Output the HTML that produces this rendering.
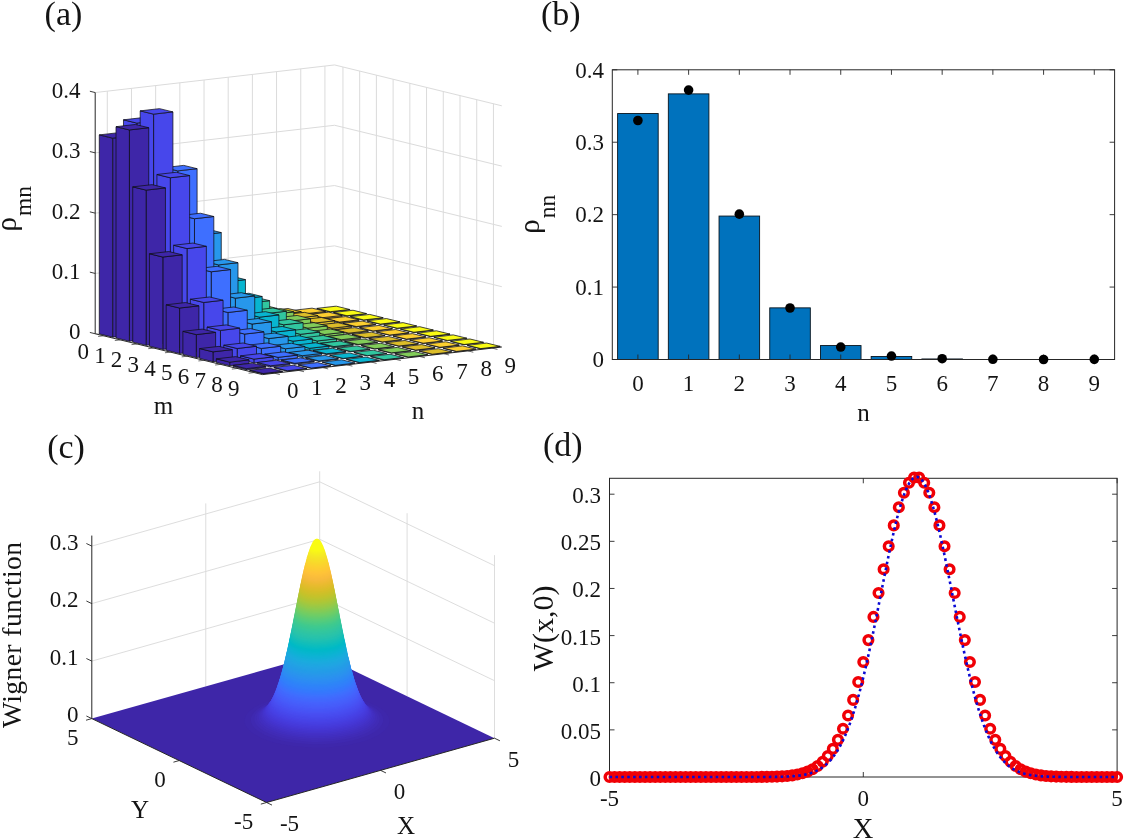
<!DOCTYPE html>
<html lang="en"><head><meta charset="utf-8"><title>Figure</title>
<style>html,body{margin:0;padding:0;background:#fff;}svg{display:block;}text{font-family:"Liberation Serif", "DejaVu Serif", serif;fill:#141414;}</style>
</head><body>
<svg width="1125" height="840" viewBox="0 0 1125 840">
<rect x="0" y="0" width="1125" height="840" fill="#ffffff"/>
<g id="panel-a">
<line x1="107.29" y1="332.36" x2="107.29" y2="91.16" stroke="#dbdbdb" stroke-width="1"/>
<line x1="342.96" y1="308.19" x2="342.96" y2="66.99" stroke="#dbdbdb" stroke-width="1"/>
<line x1="103.56" y1="335.79" x2="342.96" y2="308.19" stroke="#dbdbdb" stroke-width="1"/>
<line x1="107.29" y1="332.36" x2="274.49" y2="373.21" stroke="#dbdbdb" stroke-width="1"/>
<line x1="131.47" y1="329.57" x2="131.47" y2="88.37" stroke="#dbdbdb" stroke-width="1"/>
<line x1="359.68" y1="312.28" x2="359.68" y2="71.08" stroke="#dbdbdb" stroke-width="1"/>
<line x1="120.28" y1="339.88" x2="359.68" y2="312.28" stroke="#dbdbdb" stroke-width="1"/>
<line x1="131.47" y1="329.57" x2="298.67" y2="370.42" stroke="#dbdbdb" stroke-width="1"/>
<line x1="155.65" y1="326.78" x2="155.65" y2="85.58" stroke="#dbdbdb" stroke-width="1"/>
<line x1="376.4" y1="316.36" x2="376.4" y2="75.16" stroke="#dbdbdb" stroke-width="1"/>
<line x1="137" y1="343.96" x2="376.4" y2="316.36" stroke="#dbdbdb" stroke-width="1"/>
<line x1="155.65" y1="326.78" x2="322.85" y2="367.63" stroke="#dbdbdb" stroke-width="1"/>
<line x1="179.84" y1="323.99" x2="179.84" y2="82.79" stroke="#dbdbdb" stroke-width="1"/>
<line x1="393.12" y1="320.45" x2="393.12" y2="79.25" stroke="#dbdbdb" stroke-width="1"/>
<line x1="153.72" y1="348.05" x2="393.12" y2="320.45" stroke="#dbdbdb" stroke-width="1"/>
<line x1="179.84" y1="323.99" x2="347.04" y2="364.84" stroke="#dbdbdb" stroke-width="1"/>
<line x1="204.02" y1="321.2" x2="204.02" y2="80" stroke="#dbdbdb" stroke-width="1"/>
<line x1="409.84" y1="324.53" x2="409.84" y2="83.33" stroke="#dbdbdb" stroke-width="1"/>
<line x1="170.44" y1="352.13" x2="409.84" y2="324.53" stroke="#dbdbdb" stroke-width="1"/>
<line x1="204.02" y1="321.2" x2="371.22" y2="362.05" stroke="#dbdbdb" stroke-width="1"/>
<line x1="228.2" y1="318.42" x2="228.2" y2="77.22" stroke="#dbdbdb" stroke-width="1"/>
<line x1="426.56" y1="328.62" x2="426.56" y2="87.42" stroke="#dbdbdb" stroke-width="1"/>
<line x1="187.16" y1="356.22" x2="426.56" y2="328.62" stroke="#dbdbdb" stroke-width="1"/>
<line x1="228.2" y1="318.42" x2="395.4" y2="359.27" stroke="#dbdbdb" stroke-width="1"/>
<line x1="252.38" y1="315.63" x2="252.38" y2="74.43" stroke="#dbdbdb" stroke-width="1"/>
<line x1="443.28" y1="332.7" x2="443.28" y2="91.5" stroke="#dbdbdb" stroke-width="1"/>
<line x1="203.88" y1="360.3" x2="443.28" y2="332.7" stroke="#dbdbdb" stroke-width="1"/>
<line x1="252.38" y1="315.63" x2="419.58" y2="356.48" stroke="#dbdbdb" stroke-width="1"/>
<line x1="276.56" y1="312.84" x2="276.56" y2="71.64" stroke="#dbdbdb" stroke-width="1"/>
<line x1="460" y1="336.79" x2="460" y2="95.59" stroke="#dbdbdb" stroke-width="1"/>
<line x1="220.6" y1="364.39" x2="460" y2="336.79" stroke="#dbdbdb" stroke-width="1"/>
<line x1="276.56" y1="312.84" x2="443.76" y2="353.69" stroke="#dbdbdb" stroke-width="1"/>
<line x1="300.75" y1="310.05" x2="300.75" y2="68.85" stroke="#dbdbdb" stroke-width="1"/>
<line x1="476.72" y1="340.87" x2="476.72" y2="99.67" stroke="#dbdbdb" stroke-width="1"/>
<line x1="237.32" y1="368.47" x2="476.72" y2="340.87" stroke="#dbdbdb" stroke-width="1"/>
<line x1="300.75" y1="310.05" x2="467.95" y2="350.9" stroke="#dbdbdb" stroke-width="1"/>
<line x1="324.93" y1="307.27" x2="324.93" y2="66.07" stroke="#dbdbdb" stroke-width="1"/>
<line x1="493.44" y1="344.96" x2="493.44" y2="103.76" stroke="#dbdbdb" stroke-width="1"/>
<line x1="254.04" y1="372.56" x2="493.44" y2="344.96" stroke="#dbdbdb" stroke-width="1"/>
<line x1="324.93" y1="307.27" x2="492.13" y2="348.12" stroke="#dbdbdb" stroke-width="1"/>
<polyline points="95.2,333.75 334.6,306.15 501.8,347" fill="none" stroke="#dbdbdb" stroke-width="1"/>
<polyline points="95.2,273.45 334.6,245.85 501.8,286.7" fill="none" stroke="#dbdbdb" stroke-width="1"/>
<polyline points="95.2,213.15 334.6,185.55 501.8,226.4" fill="none" stroke="#dbdbdb" stroke-width="1"/>
<polyline points="95.2,152.85 334.6,125.25 501.8,166.1" fill="none" stroke="#dbdbdb" stroke-width="1"/>
<polyline points="95.2,92.55 334.6,64.95 501.8,105.8" fill="none" stroke="#dbdbdb" stroke-width="1"/>
<polygon points="330.3,312.06 349.65,309.83 349.65,309.45 330.3,311.68" fill="#f9fb15" stroke="#101018" stroke-width="0.75" stroke-linejoin="round"/>
<polygon points="316.93,308.79 330.3,312.06 330.3,311.68 316.93,308.41" fill="#f9fb15" stroke="#101018" stroke-width="0.75" stroke-linejoin="round"/>
<polygon points="316.93,308.41 330.3,311.68 349.65,309.45 336.27,306.18" fill="#f9fb15" stroke="#101018" stroke-width="0.75" stroke-linejoin="round"/>
<polygon points="306.12,314.84 325.47,312.61 325.47,311.41 306.12,313.64" fill="#fccf30" stroke="#101018" stroke-width="0.75" stroke-linejoin="round"/>
<polygon points="292.74,311.58 306.12,314.84 306.12,313.64 292.74,310.38" fill="#fccf30" stroke="#101018" stroke-width="0.75" stroke-linejoin="round"/>
<polygon points="292.74,310.38 306.12,313.64 325.47,311.41 312.09,308.15" fill="#fccf30" stroke="#101018" stroke-width="0.75" stroke-linejoin="round"/>
<polygon points="281.94,317.63 301.28,315.4 301.28,311.77 281.94,314" fill="#dcbd29" stroke="#101018" stroke-width="0.75" stroke-linejoin="round"/>
<polygon points="268.56,314.36 281.94,317.63 281.94,314 268.56,310.73" fill="#dcbd29" stroke="#101018" stroke-width="0.75" stroke-linejoin="round"/>
<polygon points="268.56,310.73 281.94,314 301.28,311.77 287.91,308.5" fill="#dcbd29" stroke="#101018" stroke-width="0.75" stroke-linejoin="round"/>
<polygon points="257.76,320.42 277.1,318.19 277.1,308.39 257.76,310.62" fill="#81cc59" stroke="#101018" stroke-width="0.75" stroke-linejoin="round"/>
<polygon points="244.38,317.15 257.76,320.42 257.76,310.62 244.38,307.35" fill="#81cc59" stroke="#101018" stroke-width="0.75" stroke-linejoin="round"/>
<polygon points="244.38,307.35 257.76,310.62 277.1,308.39 263.73,305.12" fill="#81cc59" stroke="#101018" stroke-width="0.75" stroke-linejoin="round"/>
<polygon points="233.58,323.21 252.92,320.98 252.92,298 233.58,300.23" fill="#31c69f" stroke="#101018" stroke-width="0.75" stroke-linejoin="round"/>
<polygon points="220.2,319.94 233.58,323.21 233.58,300.23 220.2,296.96" fill="#31c69f" stroke="#101018" stroke-width="0.75" stroke-linejoin="round"/>
<polygon points="220.2,296.96 233.58,300.23 252.92,298 239.54,294.73" fill="#31c69f" stroke="#101018" stroke-width="0.75" stroke-linejoin="round"/>
<polygon points="209.39,326 228.74,323.77 228.74,278.34 209.39,280.57" fill="#08b5d0" stroke="#101018" stroke-width="0.75" stroke-linejoin="round"/>
<polygon points="196.02,322.73 209.39,326 209.39,280.57 196.02,277.3" fill="#08b5d0" stroke="#101018" stroke-width="0.75" stroke-linejoin="round"/>
<polygon points="196.02,277.3 209.39,280.57 228.74,278.34 215.36,275.07" fill="#08b5d0" stroke="#101018" stroke-width="0.75" stroke-linejoin="round"/>
<polygon points="185.21,328.78 204.56,326.55 204.56,234.19 185.21,236.42" fill="#2797eb" stroke="#101018" stroke-width="0.75" stroke-linejoin="round"/>
<polygon points="171.84,325.52 185.21,328.78 185.21,236.42 171.84,233.15" fill="#2797eb" stroke="#101018" stroke-width="0.75" stroke-linejoin="round"/>
<polygon points="171.84,233.15 185.21,236.42 204.56,234.19 191.18,230.92" fill="#2797eb" stroke="#101018" stroke-width="0.75" stroke-linejoin="round"/>
<polygon points="161.03,331.57 180.38,329.34 180.38,174.16 161.03,176.39" fill="#3e6fff" stroke="#101018" stroke-width="0.75" stroke-linejoin="round"/>
<polygon points="147.65,328.3 161.03,331.57 161.03,176.39 147.65,173.12" fill="#3e6fff" stroke="#101018" stroke-width="0.75" stroke-linejoin="round"/>
<polygon points="147.65,173.12 161.03,176.39 180.38,174.16 167,170.89" fill="#3e6fff" stroke="#101018" stroke-width="0.75" stroke-linejoin="round"/>
<polygon points="136.85,334.36 156.19,332.13 156.19,120.86 136.85,123.09" fill="#4747eb" stroke="#101018" stroke-width="0.75" stroke-linejoin="round"/>
<polygon points="123.47,331.09 136.85,334.36 136.85,123.09 123.47,119.82" fill="#4747eb" stroke="#101018" stroke-width="0.75" stroke-linejoin="round"/>
<polygon points="123.47,119.82 136.85,123.09 156.19,120.86 142.82,117.59" fill="#4747eb" stroke="#101018" stroke-width="0.75" stroke-linejoin="round"/>
<polygon points="112.67,337.15 132.01,334.92 132.01,135.93 112.67,138.16" fill="#3e26a8" stroke="#101018" stroke-width="0.75" stroke-linejoin="round"/>
<polygon points="99.29,333.88 112.67,337.15 112.67,138.16 99.29,134.89" fill="#3e26a8" stroke="#101018" stroke-width="0.75" stroke-linejoin="round"/>
<polygon points="99.29,134.89 112.67,138.16 132.01,135.93 118.64,132.66" fill="#3e26a8" stroke="#101018" stroke-width="0.75" stroke-linejoin="round"/>
<polygon points="347.02,316.14 366.37,313.91 366.37,313.51 347.02,315.74" fill="#f9fb15" stroke="#101018" stroke-width="0.75" stroke-linejoin="round"/>
<polygon points="333.65,312.87 347.02,316.14 347.02,315.74 333.65,312.47" fill="#f9fb15" stroke="#101018" stroke-width="0.75" stroke-linejoin="round"/>
<polygon points="333.65,312.47 347.02,315.74 366.37,313.51 352.99,310.24" fill="#f9fb15" stroke="#101018" stroke-width="0.75" stroke-linejoin="round"/>
<polygon points="322.84,318.93 342.19,316.7 342.19,315.43 322.84,317.66" fill="#fccf30" stroke="#101018" stroke-width="0.75" stroke-linejoin="round"/>
<polygon points="309.46,315.66 322.84,318.93 322.84,317.66 309.46,314.39" fill="#fccf30" stroke="#101018" stroke-width="0.75" stroke-linejoin="round"/>
<polygon points="309.46,314.39 322.84,317.66 342.19,315.43 328.81,312.16" fill="#fccf30" stroke="#101018" stroke-width="0.75" stroke-linejoin="round"/>
<polygon points="298.66,321.72 318,319.49 318,315.63 298.66,317.86" fill="#dcbd29" stroke="#101018" stroke-width="0.75" stroke-linejoin="round"/>
<polygon points="285.28,318.45 298.66,321.72 298.66,317.86 285.28,314.59" fill="#dcbd29" stroke="#101018" stroke-width="0.75" stroke-linejoin="round"/>
<polygon points="285.28,314.59 298.66,317.86 318,315.63 304.63,312.36" fill="#dcbd29" stroke="#101018" stroke-width="0.75" stroke-linejoin="round"/>
<polygon points="274.48,324.51 293.82,322.28 293.82,311.87 274.48,314.1" fill="#81cc59" stroke="#101018" stroke-width="0.75" stroke-linejoin="round"/>
<polygon points="261.1,321.24 274.48,324.51 274.48,314.1 261.1,310.84" fill="#81cc59" stroke="#101018" stroke-width="0.75" stroke-linejoin="round"/>
<polygon points="261.1,310.84 274.48,314.1 293.82,311.87 280.45,308.6" fill="#81cc59" stroke="#101018" stroke-width="0.75" stroke-linejoin="round"/>
<polygon points="250.3,327.29 269.64,325.06 269.64,300.67 250.3,302.9" fill="#31c69f" stroke="#101018" stroke-width="0.75" stroke-linejoin="round"/>
<polygon points="236.92,324.03 250.3,327.29 250.3,302.9 236.92,299.63" fill="#31c69f" stroke="#101018" stroke-width="0.75" stroke-linejoin="round"/>
<polygon points="236.92,299.63 250.3,302.9 269.64,300.67 256.26,297.4" fill="#31c69f" stroke="#101018" stroke-width="0.75" stroke-linejoin="round"/>
<polygon points="226.11,330.08 245.46,327.85 245.46,279.62 226.11,281.85" fill="#08b5d0" stroke="#101018" stroke-width="0.75" stroke-linejoin="round"/>
<polygon points="212.74,326.81 226.11,330.08 226.11,281.85 212.74,278.58" fill="#08b5d0" stroke="#101018" stroke-width="0.75" stroke-linejoin="round"/>
<polygon points="212.74,278.58 226.11,281.85 245.46,279.62 232.08,276.35" fill="#08b5d0" stroke="#101018" stroke-width="0.75" stroke-linejoin="round"/>
<polygon points="201.93,332.87 221.28,330.64 221.28,232.57 201.93,234.8" fill="#2797eb" stroke="#101018" stroke-width="0.75" stroke-linejoin="round"/>
<polygon points="188.56,329.6 201.93,332.87 201.93,234.8 188.56,231.53" fill="#2797eb" stroke="#101018" stroke-width="0.75" stroke-linejoin="round"/>
<polygon points="188.56,231.53 201.93,234.8 221.28,232.57 207.9,229.3" fill="#2797eb" stroke="#101018" stroke-width="0.75" stroke-linejoin="round"/>
<polygon points="177.75,335.66 197.1,333.43 197.1,168.66 177.75,170.89" fill="#3e6fff" stroke="#101018" stroke-width="0.75" stroke-linejoin="round"/>
<polygon points="164.37,332.39 177.75,335.66 177.75,170.89 164.37,167.62" fill="#3e6fff" stroke="#101018" stroke-width="0.75" stroke-linejoin="round"/>
<polygon points="164.37,167.62 177.75,170.89 197.1,168.66 183.72,165.39" fill="#3e6fff" stroke="#101018" stroke-width="0.75" stroke-linejoin="round"/>
<polygon points="153.57,338.44 172.91,336.21 172.91,111.9 153.57,114.13" fill="#4747eb" stroke="#101018" stroke-width="0.75" stroke-linejoin="round"/>
<polygon points="140.19,335.18 153.57,338.44 153.57,114.13 140.19,110.86" fill="#4747eb" stroke="#101018" stroke-width="0.75" stroke-linejoin="round"/>
<polygon points="140.19,110.86 153.57,114.13 172.91,111.9 159.54,108.63" fill="#4747eb" stroke="#101018" stroke-width="0.75" stroke-linejoin="round"/>
<polygon points="129.39,341.23 148.73,339 148.73,127.73 129.39,129.96" fill="#3e26a8" stroke="#101018" stroke-width="0.75" stroke-linejoin="round"/>
<polygon points="116.01,337.96 129.39,341.23 129.39,129.96 116.01,126.69" fill="#3e26a8" stroke="#101018" stroke-width="0.75" stroke-linejoin="round"/>
<polygon points="116.01,126.69 129.39,129.96 148.73,127.73 135.36,124.46" fill="#3e26a8" stroke="#101018" stroke-width="0.75" stroke-linejoin="round"/>
<polygon points="363.74,320.23 383.09,318 383.09,317.7 363.74,319.93" fill="#f9fb15" stroke="#101018" stroke-width="0.75" stroke-linejoin="round"/>
<polygon points="350.37,316.96 363.74,320.23 363.74,319.93 350.37,316.66" fill="#f9fb15" stroke="#101018" stroke-width="0.75" stroke-linejoin="round"/>
<polygon points="350.37,316.66 363.74,319.93 383.09,317.7 369.71,314.43" fill="#f9fb15" stroke="#101018" stroke-width="0.75" stroke-linejoin="round"/>
<polygon points="339.56,323.01 358.91,320.78 358.91,319.85 339.56,322.08" fill="#fccf30" stroke="#101018" stroke-width="0.75" stroke-linejoin="round"/>
<polygon points="326.18,319.75 339.56,323.01 339.56,322.08 326.18,318.81" fill="#fccf30" stroke="#101018" stroke-width="0.75" stroke-linejoin="round"/>
<polygon points="326.18,318.81 339.56,322.08 358.91,319.85 345.53,316.58" fill="#fccf30" stroke="#101018" stroke-width="0.75" stroke-linejoin="round"/>
<polygon points="315.38,325.8 334.72,323.57 334.72,320.74 315.38,322.97" fill="#dcbd29" stroke="#101018" stroke-width="0.75" stroke-linejoin="round"/>
<polygon points="302,322.53 315.38,325.8 315.38,322.97 302,319.7" fill="#dcbd29" stroke="#101018" stroke-width="0.75" stroke-linejoin="round"/>
<polygon points="302,319.7 315.38,322.97 334.72,320.74 321.35,317.47" fill="#dcbd29" stroke="#101018" stroke-width="0.75" stroke-linejoin="round"/>
<polygon points="291.2,328.59 310.54,326.36 310.54,318.72 291.2,320.95" fill="#81cc59" stroke="#101018" stroke-width="0.75" stroke-linejoin="round"/>
<polygon points="277.82,325.32 291.2,328.59 291.2,320.95 277.82,317.68" fill="#81cc59" stroke="#101018" stroke-width="0.75" stroke-linejoin="round"/>
<polygon points="277.82,317.68 291.2,320.95 310.54,318.72 297.17,315.45" fill="#81cc59" stroke="#101018" stroke-width="0.75" stroke-linejoin="round"/>
<polygon points="267.02,331.38 286.36,329.15 286.36,311.23 267.02,313.46" fill="#31c69f" stroke="#101018" stroke-width="0.75" stroke-linejoin="round"/>
<polygon points="253.64,328.11 267.02,331.38 267.02,313.46 253.64,310.19" fill="#31c69f" stroke="#101018" stroke-width="0.75" stroke-linejoin="round"/>
<polygon points="253.64,310.19 267.02,313.46 286.36,311.23 272.98,307.96" fill="#31c69f" stroke="#101018" stroke-width="0.75" stroke-linejoin="round"/>
<polygon points="242.83,334.17 262.18,331.94 262.18,296.51 242.83,298.74" fill="#08b5d0" stroke="#101018" stroke-width="0.75" stroke-linejoin="round"/>
<polygon points="229.46,330.9 242.83,334.17 242.83,298.74 229.46,295.47" fill="#08b5d0" stroke="#101018" stroke-width="0.75" stroke-linejoin="round"/>
<polygon points="229.46,295.47 242.83,298.74 262.18,296.51 248.8,293.24" fill="#08b5d0" stroke="#101018" stroke-width="0.75" stroke-linejoin="round"/>
<polygon points="218.65,336.95 238,334.72 238,262.69 218.65,264.92" fill="#2797eb" stroke="#101018" stroke-width="0.75" stroke-linejoin="round"/>
<polygon points="205.28,333.69 218.65,336.95 218.65,264.92 205.28,261.65" fill="#2797eb" stroke="#101018" stroke-width="0.75" stroke-linejoin="round"/>
<polygon points="205.28,261.65 218.65,264.92 238,262.69 224.62,259.42" fill="#2797eb" stroke="#101018" stroke-width="0.75" stroke-linejoin="round"/>
<polygon points="194.47,339.74 213.82,337.51 213.82,216.49 194.47,218.72" fill="#3e6fff" stroke="#101018" stroke-width="0.75" stroke-linejoin="round"/>
<polygon points="181.09,336.47 194.47,339.74 194.47,218.72 181.09,215.45" fill="#3e6fff" stroke="#101018" stroke-width="0.75" stroke-linejoin="round"/>
<polygon points="181.09,215.45 194.47,218.72 213.82,216.49 200.44,213.22" fill="#3e6fff" stroke="#101018" stroke-width="0.75" stroke-linejoin="round"/>
<polygon points="170.29,342.53 189.63,340.3 189.63,175.54 170.29,177.77" fill="#4747eb" stroke="#101018" stroke-width="0.75" stroke-linejoin="round"/>
<polygon points="156.91,339.26 170.29,342.53 170.29,177.77 156.91,174.5" fill="#4747eb" stroke="#101018" stroke-width="0.75" stroke-linejoin="round"/>
<polygon points="156.91,174.5 170.29,177.77 189.63,175.54 176.26,172.27" fill="#4747eb" stroke="#101018" stroke-width="0.75" stroke-linejoin="round"/>
<polygon points="146.11,345.32 165.45,343.09 165.45,187.9 146.11,190.13" fill="#3e26a8" stroke="#101018" stroke-width="0.75" stroke-linejoin="round"/>
<polygon points="132.73,342.05 146.11,345.32 146.11,190.13 132.73,186.87" fill="#3e26a8" stroke="#101018" stroke-width="0.75" stroke-linejoin="round"/>
<polygon points="132.73,186.87 146.11,190.13 165.45,187.9 152.08,184.64" fill="#3e26a8" stroke="#101018" stroke-width="0.75" stroke-linejoin="round"/>
<polygon points="380.46,324.31 399.81,322.08 399.81,321.84 380.46,324.07" fill="#f9fb15" stroke="#101018" stroke-width="0.75" stroke-linejoin="round"/>
<polygon points="367.09,321.04 380.46,324.31 380.46,324.07 367.09,320.8" fill="#f9fb15" stroke="#101018" stroke-width="0.75" stroke-linejoin="round"/>
<polygon points="367.09,320.8 380.46,324.07 399.81,321.84 386.43,318.57" fill="#f9fb15" stroke="#101018" stroke-width="0.75" stroke-linejoin="round"/>
<polygon points="356.28,327.1 375.63,324.87 375.63,324.31 356.28,326.54" fill="#fccf30" stroke="#101018" stroke-width="0.75" stroke-linejoin="round"/>
<polygon points="342.9,323.83 356.28,327.1 356.28,326.54 342.9,323.27" fill="#fccf30" stroke="#101018" stroke-width="0.75" stroke-linejoin="round"/>
<polygon points="342.9,323.27 356.28,326.54 375.63,324.31 362.25,321.04" fill="#fccf30" stroke="#101018" stroke-width="0.75" stroke-linejoin="round"/>
<polygon points="332.1,329.89 351.44,327.66 351.44,325.97 332.1,328.2" fill="#dcbd29" stroke="#101018" stroke-width="0.75" stroke-linejoin="round"/>
<polygon points="318.72,326.62 332.1,329.89 332.1,328.2 318.72,324.93" fill="#dcbd29" stroke="#101018" stroke-width="0.75" stroke-linejoin="round"/>
<polygon points="318.72,324.93 332.1,328.2 351.44,325.97 338.07,322.7" fill="#dcbd29" stroke="#101018" stroke-width="0.75" stroke-linejoin="round"/>
<polygon points="307.92,332.68 327.26,330.45 327.26,325.9 307.92,328.13" fill="#81cc59" stroke="#101018" stroke-width="0.75" stroke-linejoin="round"/>
<polygon points="294.54,329.41 307.92,332.68 307.92,328.13 294.54,324.86" fill="#81cc59" stroke="#101018" stroke-width="0.75" stroke-linejoin="round"/>
<polygon points="294.54,324.86 307.92,328.13 327.26,325.9 313.89,322.63" fill="#81cc59" stroke="#101018" stroke-width="0.75" stroke-linejoin="round"/>
<polygon points="283.74,335.46 303.08,333.23 303.08,322.57 283.74,324.8" fill="#31c69f" stroke="#101018" stroke-width="0.75" stroke-linejoin="round"/>
<polygon points="270.36,332.2 283.74,335.46 283.74,324.8 270.36,321.53" fill="#31c69f" stroke="#101018" stroke-width="0.75" stroke-linejoin="round"/>
<polygon points="270.36,321.53 283.74,324.8 303.08,322.57 289.7,319.3" fill="#31c69f" stroke="#101018" stroke-width="0.75" stroke-linejoin="round"/>
<polygon points="259.55,338.25 278.9,336.02 278.9,314.93 259.55,317.16" fill="#08b5d0" stroke="#101018" stroke-width="0.75" stroke-linejoin="round"/>
<polygon points="246.18,334.98 259.55,338.25 259.55,317.16 246.18,313.9" fill="#08b5d0" stroke="#101018" stroke-width="0.75" stroke-linejoin="round"/>
<polygon points="246.18,313.9 259.55,317.16 278.9,314.93 265.52,311.67" fill="#08b5d0" stroke="#101018" stroke-width="0.75" stroke-linejoin="round"/>
<polygon points="235.37,341.04 254.72,338.81 254.72,295.94 235.37,298.17" fill="#2797eb" stroke="#101018" stroke-width="0.75" stroke-linejoin="round"/>
<polygon points="222,337.77 235.37,341.04 235.37,298.17 222,294.9" fill="#2797eb" stroke="#101018" stroke-width="0.75" stroke-linejoin="round"/>
<polygon points="222,294.9 235.37,298.17 254.72,295.94 241.34,292.67" fill="#2797eb" stroke="#101018" stroke-width="0.75" stroke-linejoin="round"/>
<polygon points="211.19,343.83 230.54,341.6 230.54,269.56 211.19,271.79" fill="#3e6fff" stroke="#101018" stroke-width="0.75" stroke-linejoin="round"/>
<polygon points="197.81,340.56 211.19,343.83 211.19,271.79 197.81,268.53" fill="#3e6fff" stroke="#101018" stroke-width="0.75" stroke-linejoin="round"/>
<polygon points="197.81,268.53 211.19,271.79 230.54,269.56 217.16,266.3" fill="#3e6fff" stroke="#101018" stroke-width="0.75" stroke-linejoin="round"/>
<polygon points="187.01,346.61 206.35,344.38 206.35,246.32 187.01,248.55" fill="#4747eb" stroke="#101018" stroke-width="0.75" stroke-linejoin="round"/>
<polygon points="173.63,343.35 187.01,346.61 187.01,248.55 173.63,245.28" fill="#4747eb" stroke="#101018" stroke-width="0.75" stroke-linejoin="round"/>
<polygon points="173.63,245.28 187.01,248.55 206.35,246.32 192.98,243.05" fill="#4747eb" stroke="#101018" stroke-width="0.75" stroke-linejoin="round"/>
<polygon points="162.83,349.4 182.17,347.17 182.17,254.81 162.83,257.04" fill="#3e26a8" stroke="#101018" stroke-width="0.75" stroke-linejoin="round"/>
<polygon points="149.45,346.13 162.83,349.4 162.83,257.04 149.45,253.77" fill="#3e26a8" stroke="#101018" stroke-width="0.75" stroke-linejoin="round"/>
<polygon points="149.45,253.77 162.83,257.04 182.17,254.81 168.8,251.54" fill="#3e26a8" stroke="#101018" stroke-width="0.75" stroke-linejoin="round"/>
<polygon points="397.18,328.4 416.53,326.17 416.53,325.93 397.18,328.16" fill="#f9fb15" stroke="#101018" stroke-width="0.75" stroke-linejoin="round"/>
<polygon points="383.81,325.13 397.18,328.4 397.18,328.16 383.81,324.89" fill="#f9fb15" stroke="#101018" stroke-width="0.75" stroke-linejoin="round"/>
<polygon points="383.81,324.89 397.18,328.16 416.53,325.93 403.15,322.66" fill="#f9fb15" stroke="#101018" stroke-width="0.75" stroke-linejoin="round"/>
<polygon points="373,331.18 392.35,328.95 392.35,328.68 373,330.91" fill="#fccf30" stroke="#101018" stroke-width="0.75" stroke-linejoin="round"/>
<polygon points="359.62,327.92 373,331.18 373,330.91 359.62,327.64" fill="#fccf30" stroke="#101018" stroke-width="0.75" stroke-linejoin="round"/>
<polygon points="359.62,327.64 373,330.91 392.35,328.68 378.97,325.41" fill="#fccf30" stroke="#101018" stroke-width="0.75" stroke-linejoin="round"/>
<polygon points="348.82,333.97 368.16,331.74 368.16,330.91 348.82,333.14" fill="#dcbd29" stroke="#101018" stroke-width="0.75" stroke-linejoin="round"/>
<polygon points="335.44,330.7 348.82,333.97 348.82,333.14 335.44,329.88" fill="#dcbd29" stroke="#101018" stroke-width="0.75" stroke-linejoin="round"/>
<polygon points="335.44,329.88 348.82,333.14 368.16,330.91 354.79,327.64" fill="#dcbd29" stroke="#101018" stroke-width="0.75" stroke-linejoin="round"/>
<polygon points="324.64,336.76 343.98,334.53 343.98,332.29 324.64,334.52" fill="#81cc59" stroke="#101018" stroke-width="0.75" stroke-linejoin="round"/>
<polygon points="311.26,333.49 324.64,336.76 324.64,334.52 311.26,331.26" fill="#81cc59" stroke="#101018" stroke-width="0.75" stroke-linejoin="round"/>
<polygon points="311.26,331.26 324.64,334.52 343.98,332.29 330.61,329.03" fill="#81cc59" stroke="#101018" stroke-width="0.75" stroke-linejoin="round"/>
<polygon points="300.46,339.55 319.8,337.32 319.8,332.07 300.46,334.3" fill="#31c69f" stroke="#101018" stroke-width="0.75" stroke-linejoin="round"/>
<polygon points="287.08,336.28 300.46,339.55 300.46,334.3 287.08,331.03" fill="#31c69f" stroke="#101018" stroke-width="0.75" stroke-linejoin="round"/>
<polygon points="287.08,331.03 300.46,334.3 319.8,332.07 306.42,328.8" fill="#31c69f" stroke="#101018" stroke-width="0.75" stroke-linejoin="round"/>
<polygon points="276.27,342.34 295.62,340.11 295.62,329.73 276.27,331.96" fill="#08b5d0" stroke="#101018" stroke-width="0.75" stroke-linejoin="round"/>
<polygon points="262.9,339.07 276.27,342.34 276.27,331.96 262.9,328.7" fill="#08b5d0" stroke="#101018" stroke-width="0.75" stroke-linejoin="round"/>
<polygon points="262.9,328.7 276.27,331.96 295.62,329.73 282.24,326.47" fill="#08b5d0" stroke="#101018" stroke-width="0.75" stroke-linejoin="round"/>
<polygon points="252.09,345.12 271.44,342.89 271.44,321.81 252.09,324.04" fill="#2797eb" stroke="#101018" stroke-width="0.75" stroke-linejoin="round"/>
<polygon points="238.72,341.86 252.09,345.12 252.09,324.04 238.72,320.77" fill="#2797eb" stroke="#101018" stroke-width="0.75" stroke-linejoin="round"/>
<polygon points="238.72,320.77 252.09,324.04 271.44,321.81 258.06,318.54" fill="#2797eb" stroke="#101018" stroke-width="0.75" stroke-linejoin="round"/>
<polygon points="227.91,347.91 247.26,345.68 247.26,310.25 227.91,312.48" fill="#3e6fff" stroke="#101018" stroke-width="0.75" stroke-linejoin="round"/>
<polygon points="214.53,344.64 227.91,347.91 227.91,312.48 214.53,309.22" fill="#3e6fff" stroke="#101018" stroke-width="0.75" stroke-linejoin="round"/>
<polygon points="214.53,309.22 227.91,312.48 247.26,310.25 233.88,306.98" fill="#3e6fff" stroke="#101018" stroke-width="0.75" stroke-linejoin="round"/>
<polygon points="203.73,350.7 223.07,348.47 223.07,300.24 203.73,302.47" fill="#4747eb" stroke="#101018" stroke-width="0.75" stroke-linejoin="round"/>
<polygon points="190.35,347.43 203.73,350.7 203.73,302.47 190.35,299.2" fill="#4747eb" stroke="#101018" stroke-width="0.75" stroke-linejoin="round"/>
<polygon points="190.35,299.2 203.73,302.47 223.07,300.24 209.7,296.97" fill="#4747eb" stroke="#101018" stroke-width="0.75" stroke-linejoin="round"/>
<polygon points="179.55,353.49 198.89,351.26 198.89,305.83 179.55,308.06" fill="#3e26a8" stroke="#101018" stroke-width="0.75" stroke-linejoin="round"/>
<polygon points="166.17,350.22 179.55,353.49 179.55,308.06 166.17,304.79" fill="#3e26a8" stroke="#101018" stroke-width="0.75" stroke-linejoin="round"/>
<polygon points="166.17,304.79 179.55,308.06 198.89,305.83 185.52,302.56" fill="#3e26a8" stroke="#101018" stroke-width="0.75" stroke-linejoin="round"/>
<polygon points="413.9,332.48 433.25,330.25 433.25,330.01 413.9,332.24" fill="#f9fb15" stroke="#101018" stroke-width="0.75" stroke-linejoin="round"/>
<polygon points="400.53,329.21 413.9,332.48 413.9,332.24 400.53,328.97" fill="#f9fb15" stroke="#101018" stroke-width="0.75" stroke-linejoin="round"/>
<polygon points="400.53,328.97 413.9,332.24 433.25,330.01 419.87,326.74" fill="#f9fb15" stroke="#101018" stroke-width="0.75" stroke-linejoin="round"/>
<polygon points="389.72,335.27 409.07,333.04 409.07,332.8 389.72,335.03" fill="#fccf30" stroke="#101018" stroke-width="0.75" stroke-linejoin="round"/>
<polygon points="376.34,332 389.72,335.27 389.72,335.03 376.34,331.76" fill="#fccf30" stroke="#101018" stroke-width="0.75" stroke-linejoin="round"/>
<polygon points="376.34,331.76 389.72,335.03 409.07,332.8 395.69,329.53" fill="#fccf30" stroke="#101018" stroke-width="0.75" stroke-linejoin="round"/>
<polygon points="365.54,338.06 384.88,335.83 384.88,335.41 365.54,337.64" fill="#dcbd29" stroke="#101018" stroke-width="0.75" stroke-linejoin="round"/>
<polygon points="352.16,334.79 365.54,338.06 365.54,337.64 352.16,334.37" fill="#dcbd29" stroke="#101018" stroke-width="0.75" stroke-linejoin="round"/>
<polygon points="352.16,334.37 365.54,337.64 384.88,335.41 371.51,332.14" fill="#dcbd29" stroke="#101018" stroke-width="0.75" stroke-linejoin="round"/>
<polygon points="341.36,340.85 360.7,338.62 360.7,337.48 341.36,339.71" fill="#81cc59" stroke="#101018" stroke-width="0.75" stroke-linejoin="round"/>
<polygon points="327.98,337.58 341.36,340.85 341.36,339.71 327.98,336.45" fill="#81cc59" stroke="#101018" stroke-width="0.75" stroke-linejoin="round"/>
<polygon points="327.98,336.45 341.36,339.71 360.7,337.48 347.33,334.22" fill="#81cc59" stroke="#101018" stroke-width="0.75" stroke-linejoin="round"/>
<polygon points="317.18,343.63 336.52,341.4 336.52,338.75 317.18,340.98" fill="#31c69f" stroke="#101018" stroke-width="0.75" stroke-linejoin="round"/>
<polygon points="303.8,340.37 317.18,343.63 317.18,340.98 303.8,337.71" fill="#31c69f" stroke="#101018" stroke-width="0.75" stroke-linejoin="round"/>
<polygon points="303.8,337.71 317.18,340.98 336.52,338.75 323.14,335.48" fill="#31c69f" stroke="#101018" stroke-width="0.75" stroke-linejoin="round"/>
<polygon points="292.99,346.42 312.34,344.19 312.34,338.95 292.99,341.18" fill="#08b5d0" stroke="#101018" stroke-width="0.75" stroke-linejoin="round"/>
<polygon points="279.62,343.15 292.99,346.42 292.99,341.18 279.62,337.91" fill="#08b5d0" stroke="#101018" stroke-width="0.75" stroke-linejoin="round"/>
<polygon points="279.62,337.91 292.99,341.18 312.34,338.95 298.96,335.68" fill="#08b5d0" stroke="#101018" stroke-width="0.75" stroke-linejoin="round"/>
<polygon points="268.81,349.21 288.16,346.98 288.16,336.31 268.81,338.54" fill="#2797eb" stroke="#101018" stroke-width="0.75" stroke-linejoin="round"/>
<polygon points="255.44,345.94 268.81,349.21 268.81,338.54 255.44,335.28" fill="#2797eb" stroke="#101018" stroke-width="0.75" stroke-linejoin="round"/>
<polygon points="255.44,335.28 268.81,338.54 288.16,336.31 274.78,333.05" fill="#2797eb" stroke="#101018" stroke-width="0.75" stroke-linejoin="round"/>
<polygon points="244.63,352 263.98,349.77 263.98,331.85 244.63,334.08" fill="#3e6fff" stroke="#101018" stroke-width="0.75" stroke-linejoin="round"/>
<polygon points="231.25,348.73 244.63,352 244.63,334.08 231.25,330.81" fill="#3e6fff" stroke="#101018" stroke-width="0.75" stroke-linejoin="round"/>
<polygon points="231.25,330.81 244.63,334.08 263.98,331.85 250.6,328.58" fill="#3e6fff" stroke="#101018" stroke-width="0.75" stroke-linejoin="round"/>
<polygon points="220.45,354.78 239.79,352.55 239.79,328.16 220.45,330.39" fill="#4747eb" stroke="#101018" stroke-width="0.75" stroke-linejoin="round"/>
<polygon points="207.07,351.52 220.45,354.78 220.45,330.39 207.07,327.12" fill="#4747eb" stroke="#101018" stroke-width="0.75" stroke-linejoin="round"/>
<polygon points="207.07,327.12 220.45,330.39 239.79,328.16 226.42,324.89" fill="#4747eb" stroke="#101018" stroke-width="0.75" stroke-linejoin="round"/>
<polygon points="196.27,357.57 215.61,355.34 215.61,332.37 196.27,334.6" fill="#3e26a8" stroke="#101018" stroke-width="0.75" stroke-linejoin="round"/>
<polygon points="182.89,354.3 196.27,357.57 196.27,334.6 182.89,331.33" fill="#3e26a8" stroke="#101018" stroke-width="0.75" stroke-linejoin="round"/>
<polygon points="182.89,331.33 196.27,334.6 215.61,332.37 202.24,329.1" fill="#3e26a8" stroke="#101018" stroke-width="0.75" stroke-linejoin="round"/>
<polygon points="430.62,336.57 449.97,334.34 449.97,334.1 430.62,336.33" fill="#f9fb15" stroke="#101018" stroke-width="0.75" stroke-linejoin="round"/>
<polygon points="417.25,333.3 430.62,336.57 430.62,336.33 417.25,333.06" fill="#f9fb15" stroke="#101018" stroke-width="0.75" stroke-linejoin="round"/>
<polygon points="417.25,333.06 430.62,336.33 449.97,334.1 436.59,330.83" fill="#f9fb15" stroke="#101018" stroke-width="0.75" stroke-linejoin="round"/>
<polygon points="406.44,339.35 425.79,337.12 425.79,336.88 406.44,339.11" fill="#fccf30" stroke="#101018" stroke-width="0.75" stroke-linejoin="round"/>
<polygon points="393.06,336.09 406.44,339.35 406.44,339.11 393.06,335.85" fill="#fccf30" stroke="#101018" stroke-width="0.75" stroke-linejoin="round"/>
<polygon points="393.06,335.85 406.44,339.11 425.79,336.88 412.41,333.62" fill="#fccf30" stroke="#101018" stroke-width="0.75" stroke-linejoin="round"/>
<polygon points="382.26,342.14 401.6,339.91 401.6,339.67 382.26,341.9" fill="#dcbd29" stroke="#101018" stroke-width="0.75" stroke-linejoin="round"/>
<polygon points="368.88,338.87 382.26,342.14 382.26,341.9 368.88,338.63" fill="#dcbd29" stroke="#101018" stroke-width="0.75" stroke-linejoin="round"/>
<polygon points="368.88,338.63 382.26,341.9 401.6,339.67 388.23,336.4" fill="#dcbd29" stroke="#101018" stroke-width="0.75" stroke-linejoin="round"/>
<polygon points="358.08,344.93 377.42,342.7 377.42,342.22 358.08,344.45" fill="#81cc59" stroke="#101018" stroke-width="0.75" stroke-linejoin="round"/>
<polygon points="344.7,341.66 358.08,344.93 358.08,344.45 344.7,341.18" fill="#81cc59" stroke="#101018" stroke-width="0.75" stroke-linejoin="round"/>
<polygon points="344.7,341.18 358.08,344.45 377.42,342.22 364.05,338.95" fill="#81cc59" stroke="#101018" stroke-width="0.75" stroke-linejoin="round"/>
<polygon points="333.9,347.72 353.24,345.49 353.24,344.36 333.9,346.59" fill="#31c69f" stroke="#101018" stroke-width="0.75" stroke-linejoin="round"/>
<polygon points="320.52,344.45 333.9,347.72 333.9,346.59 320.52,343.32" fill="#31c69f" stroke="#101018" stroke-width="0.75" stroke-linejoin="round"/>
<polygon points="320.52,343.32 333.9,346.59 353.24,344.36 339.86,341.09" fill="#31c69f" stroke="#101018" stroke-width="0.75" stroke-linejoin="round"/>
<polygon points="309.71,350.51 329.06,348.28 329.06,346.04 309.71,348.27" fill="#08b5d0" stroke="#101018" stroke-width="0.75" stroke-linejoin="round"/>
<polygon points="296.34,347.24 309.71,350.51 309.71,348.27 296.34,345" fill="#08b5d0" stroke="#101018" stroke-width="0.75" stroke-linejoin="round"/>
<polygon points="296.34,345 309.71,348.27 329.06,346.04 315.68,342.77" fill="#08b5d0" stroke="#101018" stroke-width="0.75" stroke-linejoin="round"/>
<polygon points="285.53,353.29 304.88,351.06 304.88,346.52 285.53,348.75" fill="#2797eb" stroke="#101018" stroke-width="0.75" stroke-linejoin="round"/>
<polygon points="272.16,350.03 285.53,353.29 285.53,348.75 272.16,345.48" fill="#2797eb" stroke="#101018" stroke-width="0.75" stroke-linejoin="round"/>
<polygon points="272.16,345.48 285.53,348.75 304.88,346.52 291.5,343.25" fill="#2797eb" stroke="#101018" stroke-width="0.75" stroke-linejoin="round"/>
<polygon points="261.35,356.08 280.7,353.85 280.7,346.21 261.35,348.44" fill="#3e6fff" stroke="#101018" stroke-width="0.75" stroke-linejoin="round"/>
<polygon points="247.97,352.81 261.35,356.08 261.35,348.44 247.97,345.17" fill="#3e6fff" stroke="#101018" stroke-width="0.75" stroke-linejoin="round"/>
<polygon points="247.97,345.17 261.35,348.44 280.7,346.21 267.32,342.94" fill="#3e6fff" stroke="#101018" stroke-width="0.75" stroke-linejoin="round"/>
<polygon points="237.17,358.87 256.51,356.64 256.51,346.24 237.17,348.47" fill="#4747eb" stroke="#101018" stroke-width="0.75" stroke-linejoin="round"/>
<polygon points="223.79,355.6 237.17,358.87 237.17,348.47 223.79,345.2" fill="#4747eb" stroke="#101018" stroke-width="0.75" stroke-linejoin="round"/>
<polygon points="223.79,345.2 237.17,348.47 256.51,346.24 243.14,342.97" fill="#4747eb" stroke="#101018" stroke-width="0.75" stroke-linejoin="round"/>
<polygon points="212.99,361.66 232.33,359.43 232.33,349.63 212.99,351.86" fill="#3e26a8" stroke="#101018" stroke-width="0.75" stroke-linejoin="round"/>
<polygon points="199.61,358.39 212.99,361.66 212.99,351.86 199.61,348.59" fill="#3e26a8" stroke="#101018" stroke-width="0.75" stroke-linejoin="round"/>
<polygon points="199.61,348.59 212.99,351.86 232.33,349.63 218.96,346.36" fill="#3e26a8" stroke="#101018" stroke-width="0.75" stroke-linejoin="round"/>
<polygon points="447.34,340.65 466.69,338.42 466.69,338.18 447.34,340.41" fill="#f9fb15" stroke="#101018" stroke-width="0.75" stroke-linejoin="round"/>
<polygon points="433.97,337.38 447.34,340.65 447.34,340.41 433.97,337.14" fill="#f9fb15" stroke="#101018" stroke-width="0.75" stroke-linejoin="round"/>
<polygon points="433.97,337.14 447.34,340.41 466.69,338.18 453.31,334.91" fill="#f9fb15" stroke="#101018" stroke-width="0.75" stroke-linejoin="round"/>
<polygon points="423.16,343.44 442.51,341.21 442.51,340.97 423.16,343.2" fill="#fccf30" stroke="#101018" stroke-width="0.75" stroke-linejoin="round"/>
<polygon points="409.78,340.17 423.16,343.44 423.16,343.2 409.78,339.93" fill="#fccf30" stroke="#101018" stroke-width="0.75" stroke-linejoin="round"/>
<polygon points="409.78,339.93 423.16,343.2 442.51,340.97 429.13,337.7" fill="#fccf30" stroke="#101018" stroke-width="0.75" stroke-linejoin="round"/>
<polygon points="398.98,346.23 418.32,344 418.32,343.76 398.98,345.99" fill="#dcbd29" stroke="#101018" stroke-width="0.75" stroke-linejoin="round"/>
<polygon points="385.6,342.96 398.98,346.23 398.98,345.99 385.6,342.72" fill="#dcbd29" stroke="#101018" stroke-width="0.75" stroke-linejoin="round"/>
<polygon points="385.6,342.72 398.98,345.99 418.32,343.76 404.95,340.49" fill="#dcbd29" stroke="#101018" stroke-width="0.75" stroke-linejoin="round"/>
<polygon points="374.8,349.02 394.14,346.79 394.14,346.54 374.8,348.77" fill="#81cc59" stroke="#101018" stroke-width="0.75" stroke-linejoin="round"/>
<polygon points="361.42,345.75 374.8,349.02 374.8,348.77 361.42,345.51" fill="#81cc59" stroke="#101018" stroke-width="0.75" stroke-linejoin="round"/>
<polygon points="361.42,345.51 374.8,348.77 394.14,346.54 380.77,343.28" fill="#81cc59" stroke="#101018" stroke-width="0.75" stroke-linejoin="round"/>
<polygon points="350.62,351.8 369.96,349.57 369.96,349.15 350.62,351.38" fill="#31c69f" stroke="#101018" stroke-width="0.75" stroke-linejoin="round"/>
<polygon points="337.24,348.54 350.62,351.8 350.62,351.38 337.24,348.12" fill="#31c69f" stroke="#101018" stroke-width="0.75" stroke-linejoin="round"/>
<polygon points="337.24,348.12 350.62,351.38 369.96,349.15 356.58,345.89" fill="#31c69f" stroke="#101018" stroke-width="0.75" stroke-linejoin="round"/>
<polygon points="326.43,354.59 345.78,352.36 345.78,351.53 326.43,353.76" fill="#08b5d0" stroke="#101018" stroke-width="0.75" stroke-linejoin="round"/>
<polygon points="313.06,351.32 326.43,354.59 326.43,353.76 313.06,350.49" fill="#08b5d0" stroke="#101018" stroke-width="0.75" stroke-linejoin="round"/>
<polygon points="313.06,350.49 326.43,353.76 345.78,351.53 332.4,348.26" fill="#08b5d0" stroke="#101018" stroke-width="0.75" stroke-linejoin="round"/>
<polygon points="302.25,357.38 321.6,355.15 321.6,353.46 302.25,355.69" fill="#2797eb" stroke="#101018" stroke-width="0.75" stroke-linejoin="round"/>
<polygon points="288.88,354.11 302.25,357.38 302.25,355.69 288.88,352.42" fill="#2797eb" stroke="#101018" stroke-width="0.75" stroke-linejoin="round"/>
<polygon points="288.88,352.42 302.25,355.69 321.6,353.46 308.22,350.19" fill="#2797eb" stroke="#101018" stroke-width="0.75" stroke-linejoin="round"/>
<polygon points="278.07,360.17 297.42,357.94 297.42,355.1 278.07,357.33" fill="#3e6fff" stroke="#101018" stroke-width="0.75" stroke-linejoin="round"/>
<polygon points="264.69,356.9 278.07,360.17 278.07,357.33 264.69,354.07" fill="#3e6fff" stroke="#101018" stroke-width="0.75" stroke-linejoin="round"/>
<polygon points="264.69,354.07 278.07,357.33 297.42,355.1 284.04,351.84" fill="#3e6fff" stroke="#101018" stroke-width="0.75" stroke-linejoin="round"/>
<polygon points="253.89,362.95 273.23,360.72 273.23,356.87 253.89,359.1" fill="#4747eb" stroke="#101018" stroke-width="0.75" stroke-linejoin="round"/>
<polygon points="240.51,359.69 253.89,362.95 253.89,359.1 240.51,355.83" fill="#4747eb" stroke="#101018" stroke-width="0.75" stroke-linejoin="round"/>
<polygon points="240.51,355.83 253.89,359.1 273.23,356.87 259.86,353.6" fill="#4747eb" stroke="#101018" stroke-width="0.75" stroke-linejoin="round"/>
<polygon points="229.71,365.74 249.05,363.51 249.05,359.88 229.71,362.11" fill="#3e26a8" stroke="#101018" stroke-width="0.75" stroke-linejoin="round"/>
<polygon points="216.33,362.47 229.71,365.74 229.71,362.11 216.33,358.84" fill="#3e26a8" stroke="#101018" stroke-width="0.75" stroke-linejoin="round"/>
<polygon points="216.33,358.84 229.71,362.11 249.05,359.88 235.68,356.61" fill="#3e26a8" stroke="#101018" stroke-width="0.75" stroke-linejoin="round"/>
<polygon points="464.06,344.74 483.41,342.51 483.41,342.27 464.06,344.5" fill="#f9fb15" stroke="#101018" stroke-width="0.75" stroke-linejoin="round"/>
<polygon points="450.69,341.47 464.06,344.74 464.06,344.5 450.69,341.23" fill="#f9fb15" stroke="#101018" stroke-width="0.75" stroke-linejoin="round"/>
<polygon points="450.69,341.23 464.06,344.5 483.41,342.27 470.03,339" fill="#f9fb15" stroke="#101018" stroke-width="0.75" stroke-linejoin="round"/>
<polygon points="439.88,347.52 459.23,345.29 459.23,345.05 439.88,347.28" fill="#fccf30" stroke="#101018" stroke-width="0.75" stroke-linejoin="round"/>
<polygon points="426.5,344.26 439.88,347.52 439.88,347.28 426.5,344.02" fill="#fccf30" stroke="#101018" stroke-width="0.75" stroke-linejoin="round"/>
<polygon points="426.5,344.02 439.88,347.28 459.23,345.05 445.85,341.79" fill="#fccf30" stroke="#101018" stroke-width="0.75" stroke-linejoin="round"/>
<polygon points="415.7,350.31 435.04,348.08 435.04,347.84 415.7,350.07" fill="#dcbd29" stroke="#101018" stroke-width="0.75" stroke-linejoin="round"/>
<polygon points="402.32,347.04 415.7,350.31 415.7,350.07 402.32,346.8" fill="#dcbd29" stroke="#101018" stroke-width="0.75" stroke-linejoin="round"/>
<polygon points="402.32,346.8 415.7,350.07 435.04,347.84 421.67,344.57" fill="#dcbd29" stroke="#101018" stroke-width="0.75" stroke-linejoin="round"/>
<polygon points="391.52,353.1 410.86,350.87 410.86,350.63 391.52,352.86" fill="#81cc59" stroke="#101018" stroke-width="0.75" stroke-linejoin="round"/>
<polygon points="378.14,349.83 391.52,353.1 391.52,352.86 378.14,349.59" fill="#81cc59" stroke="#101018" stroke-width="0.75" stroke-linejoin="round"/>
<polygon points="378.14,349.59 391.52,352.86 410.86,350.63 397.49,347.36" fill="#81cc59" stroke="#101018" stroke-width="0.75" stroke-linejoin="round"/>
<polygon points="367.34,355.89 386.68,353.66 386.68,353.42 367.34,355.65" fill="#31c69f" stroke="#101018" stroke-width="0.75" stroke-linejoin="round"/>
<polygon points="353.96,352.62 367.34,355.89 367.34,355.65 353.96,352.38" fill="#31c69f" stroke="#101018" stroke-width="0.75" stroke-linejoin="round"/>
<polygon points="353.96,352.38 367.34,355.65 386.68,353.42 373.3,350.15" fill="#31c69f" stroke="#101018" stroke-width="0.75" stroke-linejoin="round"/>
<polygon points="343.15,358.68 362.5,356.45 362.5,356.17 343.15,358.4" fill="#08b5d0" stroke="#101018" stroke-width="0.75" stroke-linejoin="round"/>
<polygon points="329.78,355.41 343.15,358.68 343.15,358.4 329.78,355.13" fill="#08b5d0" stroke="#101018" stroke-width="0.75" stroke-linejoin="round"/>
<polygon points="329.78,355.13 343.15,358.4 362.5,356.17 349.12,352.9" fill="#08b5d0" stroke="#101018" stroke-width="0.75" stroke-linejoin="round"/>
<polygon points="318.97,361.46 338.32,359.23 338.32,358.68 318.97,360.91" fill="#2797eb" stroke="#101018" stroke-width="0.75" stroke-linejoin="round"/>
<polygon points="305.6,358.2 318.97,361.46 318.97,360.91 305.6,357.64" fill="#2797eb" stroke="#101018" stroke-width="0.75" stroke-linejoin="round"/>
<polygon points="305.6,357.64 318.97,360.91 338.32,358.68 324.94,355.41" fill="#2797eb" stroke="#101018" stroke-width="0.75" stroke-linejoin="round"/>
<polygon points="294.79,364.25 314.14,362.02 314.14,361.09 294.79,363.32" fill="#3e6fff" stroke="#101018" stroke-width="0.75" stroke-linejoin="round"/>
<polygon points="281.41,360.98 294.79,364.25 294.79,363.32 281.41,360.05" fill="#3e6fff" stroke="#101018" stroke-width="0.75" stroke-linejoin="round"/>
<polygon points="281.41,360.05 294.79,363.32 314.14,361.09 300.76,357.82" fill="#3e6fff" stroke="#101018" stroke-width="0.75" stroke-linejoin="round"/>
<polygon points="270.61,367.04 289.95,364.81 289.95,363.54 270.61,365.77" fill="#4747eb" stroke="#101018" stroke-width="0.75" stroke-linejoin="round"/>
<polygon points="257.23,363.77 270.61,367.04 270.61,365.77 257.23,362.5" fill="#4747eb" stroke="#101018" stroke-width="0.75" stroke-linejoin="round"/>
<polygon points="257.23,362.5 270.61,365.77 289.95,363.54 276.58,360.27" fill="#4747eb" stroke="#101018" stroke-width="0.75" stroke-linejoin="round"/>
<polygon points="246.43,369.83 265.77,367.6 265.77,366.4 246.43,368.63" fill="#3e26a8" stroke="#101018" stroke-width="0.75" stroke-linejoin="round"/>
<polygon points="233.05,366.56 246.43,369.83 246.43,368.63 233.05,365.36" fill="#3e26a8" stroke="#101018" stroke-width="0.75" stroke-linejoin="round"/>
<polygon points="233.05,365.36 246.43,368.63 265.77,366.4 252.4,363.13" fill="#3e26a8" stroke="#101018" stroke-width="0.75" stroke-linejoin="round"/>
<polygon points="480.78,348.82 500.13,346.59 500.13,346.35 480.78,348.58" fill="#f9fb15" stroke="#101018" stroke-width="0.75" stroke-linejoin="round"/>
<polygon points="467.41,345.55 480.78,348.82 480.78,348.58 467.41,345.31" fill="#f9fb15" stroke="#101018" stroke-width="0.75" stroke-linejoin="round"/>
<polygon points="467.41,345.31 480.78,348.58 500.13,346.35 486.75,343.08" fill="#f9fb15" stroke="#101018" stroke-width="0.75" stroke-linejoin="round"/>
<polygon points="456.6,351.61 475.95,349.38 475.95,349.14 456.6,351.37" fill="#fccf30" stroke="#101018" stroke-width="0.75" stroke-linejoin="round"/>
<polygon points="443.22,348.34 456.6,351.61 456.6,351.37 443.22,348.1" fill="#fccf30" stroke="#101018" stroke-width="0.75" stroke-linejoin="round"/>
<polygon points="443.22,348.1 456.6,351.37 475.95,349.14 462.57,345.87" fill="#fccf30" stroke="#101018" stroke-width="0.75" stroke-linejoin="round"/>
<polygon points="432.42,354.4 451.76,352.17 451.76,351.93 432.42,354.16" fill="#dcbd29" stroke="#101018" stroke-width="0.75" stroke-linejoin="round"/>
<polygon points="419.04,351.13 432.42,354.4 432.42,354.16 419.04,350.89" fill="#dcbd29" stroke="#101018" stroke-width="0.75" stroke-linejoin="round"/>
<polygon points="419.04,350.89 432.42,354.16 451.76,351.93 438.39,348.66" fill="#dcbd29" stroke="#101018" stroke-width="0.75" stroke-linejoin="round"/>
<polygon points="408.24,357.19 427.58,354.96 427.58,354.71 408.24,356.94" fill="#81cc59" stroke="#101018" stroke-width="0.75" stroke-linejoin="round"/>
<polygon points="394.86,353.92 408.24,357.19 408.24,356.94 394.86,353.68" fill="#81cc59" stroke="#101018" stroke-width="0.75" stroke-linejoin="round"/>
<polygon points="394.86,353.68 408.24,356.94 427.58,354.71 414.21,351.45" fill="#81cc59" stroke="#101018" stroke-width="0.75" stroke-linejoin="round"/>
<polygon points="384.06,359.97 403.4,357.74 403.4,357.5 384.06,359.73" fill="#31c69f" stroke="#101018" stroke-width="0.75" stroke-linejoin="round"/>
<polygon points="370.68,356.71 384.06,359.97 384.06,359.73 370.68,356.46" fill="#31c69f" stroke="#101018" stroke-width="0.75" stroke-linejoin="round"/>
<polygon points="370.68,356.46 384.06,359.73 403.4,357.5 390.02,354.23" fill="#31c69f" stroke="#101018" stroke-width="0.75" stroke-linejoin="round"/>
<polygon points="359.87,362.76 379.22,360.53 379.22,360.29 359.87,362.52" fill="#08b5d0" stroke="#101018" stroke-width="0.75" stroke-linejoin="round"/>
<polygon points="346.5,359.49 359.87,362.76 359.87,362.52 346.5,359.25" fill="#08b5d0" stroke="#101018" stroke-width="0.75" stroke-linejoin="round"/>
<polygon points="346.5,359.25 359.87,362.52 379.22,360.29 365.84,357.02" fill="#08b5d0" stroke="#101018" stroke-width="0.75" stroke-linejoin="round"/>
<polygon points="335.69,365.55 355.04,363.32 355.04,363.08 335.69,365.31" fill="#2797eb" stroke="#101018" stroke-width="0.75" stroke-linejoin="round"/>
<polygon points="322.32,362.28 335.69,365.55 335.69,365.31 322.32,362.04" fill="#2797eb" stroke="#101018" stroke-width="0.75" stroke-linejoin="round"/>
<polygon points="322.32,362.04 335.69,365.31 355.04,363.08 341.66,359.81" fill="#2797eb" stroke="#101018" stroke-width="0.75" stroke-linejoin="round"/>
<polygon points="311.51,368.34 330.86,366.11 330.86,365.81 311.51,368.04" fill="#3e6fff" stroke="#101018" stroke-width="0.75" stroke-linejoin="round"/>
<polygon points="298.13,365.07 311.51,368.34 311.51,368.04 298.13,364.77" fill="#3e6fff" stroke="#101018" stroke-width="0.75" stroke-linejoin="round"/>
<polygon points="298.13,364.77 311.51,368.04 330.86,365.81 317.48,362.54" fill="#3e6fff" stroke="#101018" stroke-width="0.75" stroke-linejoin="round"/>
<polygon points="287.33,371.12 306.67,368.89 306.67,368.49 287.33,370.72" fill="#4747eb" stroke="#101018" stroke-width="0.75" stroke-linejoin="round"/>
<polygon points="273.95,367.86 287.33,371.12 287.33,370.72 273.95,367.45" fill="#4747eb" stroke="#101018" stroke-width="0.75" stroke-linejoin="round"/>
<polygon points="273.95,367.45 287.33,370.72 306.67,368.49 293.3,365.22" fill="#4747eb" stroke="#101018" stroke-width="0.75" stroke-linejoin="round"/>
<polygon points="263.15,373.91 282.49,371.68 282.49,371.3 263.15,373.53" fill="#3e26a8" stroke="#101018" stroke-width="0.75" stroke-linejoin="round"/>
<polygon points="249.77,370.64 263.15,373.91 263.15,373.53 249.77,370.27" fill="#3e26a8" stroke="#101018" stroke-width="0.75" stroke-linejoin="round"/>
<polygon points="249.77,370.27 263.15,373.53 282.49,371.3 269.12,368.03" fill="#3e26a8" stroke="#101018" stroke-width="0.75" stroke-linejoin="round"/>
<line x1="95.2" y1="333.75" x2="95.2" y2="92.55" stroke="#262626" stroke-width="1"/>
<polyline points="95.2,333.75 262.4,374.6 501.8,347" fill="none" stroke="#262626" stroke-width="1"/>
<line x1="103.56" y1="335.79" x2="98.1" y2="336.42" stroke="#3a3a3a" stroke-width="0.75"/>
<text x="83.16" y="359.29" font-size="23" text-anchor="middle">0</text>
<line x1="274.49" y1="373.21" x2="279.83" y2="374.51" stroke="#3a3a3a" stroke-width="0.75"/>
<text x="292.69" y="398.21" font-size="23" text-anchor="middle">0</text>
<line x1="120.28" y1="339.88" x2="114.82" y2="340.51" stroke="#3a3a3a" stroke-width="0.75"/>
<text x="99.88" y="363.38" font-size="23" text-anchor="middle">1</text>
<line x1="298.67" y1="370.42" x2="304.02" y2="371.72" stroke="#3a3a3a" stroke-width="0.75"/>
<text x="316.87" y="395.42" font-size="23" text-anchor="middle">1</text>
<line x1="137" y1="343.96" x2="131.54" y2="344.59" stroke="#3a3a3a" stroke-width="0.75"/>
<text x="116.6" y="367.46" font-size="23" text-anchor="middle">2</text>
<line x1="322.85" y1="367.63" x2="328.2" y2="368.94" stroke="#3a3a3a" stroke-width="0.75"/>
<text x="341.05" y="392.63" font-size="23" text-anchor="middle">2</text>
<line x1="153.72" y1="348.05" x2="148.26" y2="348.68" stroke="#3a3a3a" stroke-width="0.75"/>
<text x="133.32" y="371.55" font-size="23" text-anchor="middle">3</text>
<line x1="347.04" y1="364.84" x2="352.38" y2="366.15" stroke="#3a3a3a" stroke-width="0.75"/>
<text x="365.24" y="389.84" font-size="23" text-anchor="middle">3</text>
<line x1="170.44" y1="352.13" x2="164.98" y2="352.76" stroke="#3a3a3a" stroke-width="0.75"/>
<text x="150.04" y="375.63" font-size="23" text-anchor="middle">4</text>
<line x1="371.22" y1="362.05" x2="376.56" y2="363.36" stroke="#3a3a3a" stroke-width="0.75"/>
<text x="389.42" y="387.05" font-size="23" text-anchor="middle">4</text>
<line x1="187.16" y1="356.22" x2="181.7" y2="356.85" stroke="#3a3a3a" stroke-width="0.75"/>
<text x="166.76" y="379.72" font-size="23" text-anchor="middle">5</text>
<line x1="395.4" y1="359.27" x2="400.74" y2="360.57" stroke="#3a3a3a" stroke-width="0.75"/>
<text x="413.6" y="384.27" font-size="23" text-anchor="middle">5</text>
<line x1="203.88" y1="360.3" x2="198.42" y2="360.93" stroke="#3a3a3a" stroke-width="0.75"/>
<text x="183.48" y="383.8" font-size="23" text-anchor="middle">6</text>
<line x1="419.58" y1="356.48" x2="424.92" y2="357.78" stroke="#3a3a3a" stroke-width="0.75"/>
<text x="437.78" y="381.48" font-size="23" text-anchor="middle">6</text>
<line x1="220.6" y1="364.39" x2="215.14" y2="365.02" stroke="#3a3a3a" stroke-width="0.75"/>
<text x="200.2" y="387.89" font-size="23" text-anchor="middle">7</text>
<line x1="443.76" y1="353.69" x2="449.11" y2="355" stroke="#3a3a3a" stroke-width="0.75"/>
<text x="461.96" y="378.69" font-size="23" text-anchor="middle">7</text>
<line x1="237.32" y1="368.47" x2="231.86" y2="369.1" stroke="#3a3a3a" stroke-width="0.75"/>
<text x="216.92" y="391.97" font-size="23" text-anchor="middle">8</text>
<line x1="467.95" y1="350.9" x2="473.29" y2="352.21" stroke="#3a3a3a" stroke-width="0.75"/>
<text x="486.15" y="375.9" font-size="23" text-anchor="middle">8</text>
<line x1="254.04" y1="372.56" x2="248.58" y2="373.19" stroke="#3a3a3a" stroke-width="0.75"/>
<text x="233.64" y="396.06" font-size="23" text-anchor="middle">9</text>
<line x1="492.13" y1="348.12" x2="497.47" y2="349.42" stroke="#3a3a3a" stroke-width="0.75"/>
<text x="510.33" y="373.12" font-size="23" text-anchor="middle">9</text>
<line x1="95.2" y1="333.75" x2="89.86" y2="332.44" stroke="#262626" stroke-width="0.9"/>
<text x="80.5" y="339.15" font-size="23" text-anchor="end">0</text>
<line x1="95.2" y1="273.45" x2="89.86" y2="272.14" stroke="#262626" stroke-width="0.9"/>
<text x="80.5" y="278.85" font-size="23" text-anchor="end">0.1</text>
<line x1="95.2" y1="213.15" x2="89.86" y2="211.84" stroke="#262626" stroke-width="0.9"/>
<text x="80.5" y="218.55" font-size="23" text-anchor="end">0.2</text>
<line x1="95.2" y1="152.85" x2="89.86" y2="151.54" stroke="#262626" stroke-width="0.9"/>
<text x="80.5" y="158.25" font-size="23" text-anchor="end">0.3</text>
<line x1="95.2" y1="92.55" x2="89.86" y2="91.24" stroke="#262626" stroke-width="0.9"/>
<text x="80.5" y="97.95" font-size="23" text-anchor="end">0.4</text>
<text x="163.5" y="414" font-size="25" text-anchor="middle">m</text>
<text x="418" y="419" font-size="25" text-anchor="middle">n</text>
<text transform="translate(16.2,231.5) rotate(-90)" font-size="29" text-anchor="start">ρ<tspan font-size="23.5" dy="14.8" dx="1">mn</tspan></text>
<text x="44.6" y="24.7" font-size="34" text-anchor="start" fill="#000">(a)</text>
</g>
<g id="panel-b">
<rect x="617.62" y="113.55" width="40.57" height="245.95" fill="#0072bd" stroke="#08141e" stroke-width="0.9"/>
<rect x="668.33" y="93.87" width="40.57" height="265.63" fill="#0072bd" stroke="#08141e" stroke-width="0.9"/>
<rect x="719.04" y="216.06" width="40.57" height="143.44" fill="#0072bd" stroke="#08141e" stroke-width="0.9"/>
<rect x="769.75" y="307.86" width="40.57" height="51.64" fill="#0072bd" stroke="#08141e" stroke-width="0.9"/>
<rect x="820.46" y="345.56" width="40.57" height="13.94" fill="#0072bd" stroke="#08141e" stroke-width="0.9"/>
<rect x="871.17" y="356.49" width="40.57" height="3.01" fill="#0072bd" stroke="#08141e" stroke-width="0.9"/>
<rect x="921.88" y="358.96" width="40.57" height="0.54" fill="#0072bd" stroke="#08141e" stroke-width="0.9"/>
<rect x="612.3" y="69.8" width="502.3" height="289.7" fill="none" stroke="#262626" stroke-width="1"/>
<line x1="637.9" y1="69.8" x2="637.9" y2="74.8" stroke="#262626" stroke-width="0.9"/>
<line x1="637.9" y1="359.5" x2="637.9" y2="354.5" stroke="#262626" stroke-width="0.9"/>
<text x="637.9" y="390.8" font-size="23" text-anchor="middle">0</text>
<line x1="688.61" y1="69.8" x2="688.61" y2="74.8" stroke="#262626" stroke-width="0.9"/>
<line x1="688.61" y1="359.5" x2="688.61" y2="354.5" stroke="#262626" stroke-width="0.9"/>
<text x="688.61" y="390.8" font-size="23" text-anchor="middle">1</text>
<line x1="739.32" y1="69.8" x2="739.32" y2="74.8" stroke="#262626" stroke-width="0.9"/>
<line x1="739.32" y1="359.5" x2="739.32" y2="354.5" stroke="#262626" stroke-width="0.9"/>
<text x="739.32" y="390.8" font-size="23" text-anchor="middle">2</text>
<line x1="790.03" y1="69.8" x2="790.03" y2="74.8" stroke="#262626" stroke-width="0.9"/>
<line x1="790.03" y1="359.5" x2="790.03" y2="354.5" stroke="#262626" stroke-width="0.9"/>
<text x="790.03" y="390.8" font-size="23" text-anchor="middle">3</text>
<line x1="840.74" y1="69.8" x2="840.74" y2="74.8" stroke="#262626" stroke-width="0.9"/>
<line x1="840.74" y1="359.5" x2="840.74" y2="354.5" stroke="#262626" stroke-width="0.9"/>
<text x="840.74" y="390.8" font-size="23" text-anchor="middle">4</text>
<line x1="891.45" y1="69.8" x2="891.45" y2="74.8" stroke="#262626" stroke-width="0.9"/>
<line x1="891.45" y1="359.5" x2="891.45" y2="354.5" stroke="#262626" stroke-width="0.9"/>
<text x="891.45" y="390.8" font-size="23" text-anchor="middle">5</text>
<line x1="942.16" y1="69.8" x2="942.16" y2="74.8" stroke="#262626" stroke-width="0.9"/>
<line x1="942.16" y1="359.5" x2="942.16" y2="354.5" stroke="#262626" stroke-width="0.9"/>
<text x="942.16" y="390.8" font-size="23" text-anchor="middle">6</text>
<line x1="992.87" y1="69.8" x2="992.87" y2="74.8" stroke="#262626" stroke-width="0.9"/>
<line x1="992.87" y1="359.5" x2="992.87" y2="354.5" stroke="#262626" stroke-width="0.9"/>
<text x="992.87" y="390.8" font-size="23" text-anchor="middle">7</text>
<line x1="1043.58" y1="69.8" x2="1043.58" y2="74.8" stroke="#262626" stroke-width="0.9"/>
<line x1="1043.58" y1="359.5" x2="1043.58" y2="354.5" stroke="#262626" stroke-width="0.9"/>
<text x="1043.58" y="390.8" font-size="23" text-anchor="middle">8</text>
<line x1="1094.29" y1="69.8" x2="1094.29" y2="74.8" stroke="#262626" stroke-width="0.9"/>
<line x1="1094.29" y1="359.5" x2="1094.29" y2="354.5" stroke="#262626" stroke-width="0.9"/>
<text x="1094.29" y="390.8" font-size="23" text-anchor="middle">9</text>
<line x1="612.3" y1="359.5" x2="617.3" y2="359.5" stroke="#262626" stroke-width="0.9"/>
<line x1="1114.6" y1="359.5" x2="1109.6" y2="359.5" stroke="#262626" stroke-width="0.9"/>
<text x="604" y="367.3" font-size="23" text-anchor="end">0</text>
<line x1="612.3" y1="287.07" x2="617.3" y2="287.07" stroke="#262626" stroke-width="0.9"/>
<line x1="1114.6" y1="287.07" x2="1109.6" y2="287.07" stroke="#262626" stroke-width="0.9"/>
<text x="604" y="294.88" font-size="23" text-anchor="end">0.1</text>
<line x1="612.3" y1="214.65" x2="617.3" y2="214.65" stroke="#262626" stroke-width="0.9"/>
<line x1="1114.6" y1="214.65" x2="1109.6" y2="214.65" stroke="#262626" stroke-width="0.9"/>
<text x="604" y="222.45" font-size="23" text-anchor="end">0.2</text>
<line x1="612.3" y1="142.23" x2="617.3" y2="142.23" stroke="#262626" stroke-width="0.9"/>
<line x1="1114.6" y1="142.23" x2="1109.6" y2="142.23" stroke="#262626" stroke-width="0.9"/>
<text x="604" y="150.03" font-size="23" text-anchor="end">0.3</text>
<line x1="612.3" y1="69.8" x2="617.3" y2="69.8" stroke="#262626" stroke-width="0.9"/>
<line x1="1114.6" y1="69.8" x2="1109.6" y2="69.8" stroke="#262626" stroke-width="0.9"/>
<text x="604" y="77.6" font-size="23" text-anchor="end">0.4</text>
<circle cx="637.9" cy="120.5" r="4.8" fill="#000"/>
<circle cx="688.61" cy="90.08" r="4.8" fill="#000"/>
<circle cx="739.32" cy="214.14" r="4.8" fill="#000"/>
<circle cx="790.03" cy="308.01" r="4.8" fill="#000"/>
<circle cx="840.74" cy="347.04" r="4.8" fill="#000"/>
<circle cx="891.45" cy="356.02" r="4.8" fill="#000"/>
<circle cx="942.16" cy="358.7" r="4.8" fill="#000"/>
<circle cx="992.87" cy="359.28" r="4.8" fill="#000"/>
<circle cx="1043.58" cy="359.5" r="4.8" fill="#000"/>
<circle cx="1094.29" cy="359.36" r="4.8" fill="#000"/>
<text x="863.5" y="421" font-size="25" text-anchor="middle">n</text>
<text transform="translate(539.2,233.8) rotate(-90)" font-size="29" text-anchor="start">ρ<tspan font-size="23.5" dy="15.4" dx="1">nn</tspan></text>
<text x="540.9" y="25" font-size="34" text-anchor="start" fill="#000">(b)</text>
</g>
<g id="panel-c">
<polyline points="91.8,661.1 319.7,596.8 494.5,680.7" fill="none" stroke="#d9d9d9" stroke-width="0.9"/>
<polyline points="91.8,603.6 319.7,539.3 494.5,623.2" fill="none" stroke="#d9d9d9" stroke-width="0.9"/>
<polyline points="91.8,546.1 319.7,481.8 494.5,565.7" fill="none" stroke="#d9d9d9" stroke-width="0.9"/>
<line x1="205.75" y1="686.45" x2="205.75" y2="503.42" stroke="#d9d9d9" stroke-width="0.9"/>
<line x1="319.7" y1="654.3" x2="319.7" y2="471.27" stroke="#d9d9d9" stroke-width="0.9"/>
<line x1="407.1" y1="696.25" x2="407.1" y2="513.22" stroke="#d9d9d9" stroke-width="0.9"/>
<line x1="494.5" y1="738.2" x2="494.5" y2="555.17" stroke="#d9d9d9" stroke-width="0.9"/>
<polygon points="91.8,718.6 266.6,802.5 494.5,738.2 319.7,654.3" fill="#3e26a8"/>
<g transform="matrix(22.79 -6.43 -17.48 -8.39 293.15 728.4)">
<circle cx="1.087" cy="0.055" r="2.520" fill="#3e27ab"/>
<circle cx="1.149" cy="0.136" r="2.304" fill="#3f29b0"/>
<circle cx="1.211" cy="0.217" r="2.184" fill="#402bb5"/>
<circle cx="1.273" cy="0.298" r="2.099" fill="#412cb9"/>
<circle cx="1.336" cy="0.379" r="2.032" fill="#412ebe"/>
<circle cx="1.398" cy="0.460" r="1.977" fill="#422fc2"/>
<circle cx="1.460" cy="0.541" r="1.929" fill="#4331c6"/>
<circle cx="1.522" cy="0.622" r="1.887" fill="#4333cb"/>
<circle cx="1.584" cy="0.703" r="1.849" fill="#4434cf"/>
<circle cx="1.646" cy="0.784" r="1.815" fill="#4536d3"/>
<circle cx="1.708" cy="0.865" r="1.783" fill="#4538d7"/>
<circle cx="1.770" cy="0.946" r="1.754" fill="#463ada"/>
<circle cx="1.832" cy="1.027" r="1.727" fill="#463cdd"/>
<circle cx="1.895" cy="1.108" r="1.702" fill="#463ee0"/>
<circle cx="1.957" cy="1.189" r="1.678" fill="#4740e3"/>
<circle cx="2.019" cy="1.270" r="1.655" fill="#4742e6"/>
<circle cx="2.081" cy="1.350" r="1.633" fill="#4744e8"/>
<circle cx="2.143" cy="1.431" r="1.613" fill="#4747ea"/>
<circle cx="2.205" cy="1.512" r="1.593" fill="#4749ec"/>
<circle cx="2.267" cy="1.593" r="1.574" fill="#484bef"/>
<circle cx="2.329" cy="1.674" r="1.556" fill="#484df0"/>
<circle cx="2.391" cy="1.755" r="1.538" fill="#484ff2"/>
<circle cx="2.453" cy="1.836" r="1.521" fill="#4852f4"/>
<circle cx="2.516" cy="1.917" r="1.505" fill="#4754f5"/>
<circle cx="2.578" cy="1.998" r="1.489" fill="#4756f7"/>
<circle cx="2.640" cy="2.079" r="1.474" fill="#4758f8"/>
<circle cx="2.702" cy="2.160" r="1.459" fill="#475bf9"/>
<circle cx="2.764" cy="2.241" r="1.444" fill="#465dfa"/>
<circle cx="2.826" cy="2.322" r="1.430" fill="#465ffb"/>
<circle cx="2.888" cy="2.403" r="1.416" fill="#4561fc"/>
<circle cx="2.950" cy="2.484" r="1.402" fill="#4563fd"/>
<circle cx="3.012" cy="2.565" r="1.389" fill="#4366fd"/>
<circle cx="3.074" cy="2.646" r="1.376" fill="#4268fd"/>
<circle cx="3.137" cy="2.727" r="1.364" fill="#416afe"/>
<circle cx="3.199" cy="2.808" r="1.351" fill="#406dfe"/>
<circle cx="3.261" cy="2.889" r="1.339" fill="#3e6ffe"/>
<circle cx="3.323" cy="2.970" r="1.327" fill="#3c72fe"/>
<circle cx="3.385" cy="3.051" r="1.315" fill="#3974fe"/>
<circle cx="3.447" cy="3.132" r="1.304" fill="#3777fd"/>
<circle cx="3.509" cy="3.213" r="1.293" fill="#3579fd"/>
<circle cx="3.571" cy="3.294" r="1.282" fill="#337bfc"/>
<circle cx="3.633" cy="3.375" r="1.271" fill="#327efb"/>
<circle cx="3.696" cy="3.456" r="1.260" fill="#3180fa"/>
<circle cx="3.758" cy="3.537" r="1.249" fill="#3082f9"/>
<circle cx="3.820" cy="3.618" r="1.239" fill="#2e84f8"/>
<circle cx="3.882" cy="3.699" r="1.228" fill="#2e86f7"/>
<circle cx="3.944" cy="3.780" r="1.218" fill="#2d89f5"/>
<circle cx="4.006" cy="3.861" r="1.208" fill="#2d8bf4"/>
<circle cx="4.068" cy="3.942" r="1.198" fill="#2c8df2"/>
<circle cx="4.130" cy="4.023" r="1.189" fill="#2c8ff1"/>
<circle cx="4.192" cy="4.103" r="1.179" fill="#2b91ef"/>
<circle cx="4.254" cy="4.184" r="1.169" fill="#2a93ee"/>
<circle cx="4.317" cy="4.265" r="1.160" fill="#2995ec"/>
<circle cx="4.379" cy="4.346" r="1.150" fill="#2897eb"/>
<circle cx="4.441" cy="4.427" r="1.141" fill="#2799e9"/>
<circle cx="4.503" cy="4.508" r="1.132" fill="#259be8"/>
<circle cx="4.565" cy="4.589" r="1.123" fill="#249ce7"/>
<circle cx="4.627" cy="4.670" r="1.114" fill="#239ee6"/>
<circle cx="4.689" cy="4.751" r="1.105" fill="#23a0e5"/>
<circle cx="4.751" cy="4.832" r="1.096" fill="#22a2e4"/>
<circle cx="4.813" cy="4.913" r="1.087" fill="#21a4e3"/>
<circle cx="4.876" cy="4.994" r="1.079" fill="#1fa6e2"/>
<circle cx="4.938" cy="5.075" r="1.070" fill="#1ea7e0"/>
<circle cx="5.000" cy="5.156" r="1.062" fill="#1ca9df"/>
<circle cx="5.062" cy="5.237" r="1.053" fill="#1babde"/>
<circle cx="5.124" cy="5.318" r="1.045" fill="#19acdc"/>
<circle cx="5.186" cy="5.399" r="1.036" fill="#16aeda"/>
<circle cx="5.248" cy="5.480" r="1.028" fill="#13afd8"/>
<circle cx="5.310" cy="5.561" r="1.020" fill="#10b1d6"/>
<circle cx="5.372" cy="5.642" r="1.012" fill="#0eb2d4"/>
<circle cx="5.434" cy="5.723" r="1.004" fill="#0bb4d2"/>
<circle cx="5.497" cy="5.804" r="0.995" fill="#09b5cf"/>
<circle cx="5.559" cy="5.885" r="0.987" fill="#07b6cd"/>
<circle cx="5.621" cy="5.966" r="0.979" fill="#04b7ca"/>
<circle cx="5.683" cy="6.047" r="0.972" fill="#02b8c8"/>
<circle cx="5.745" cy="6.128" r="0.964" fill="#01bac5"/>
<circle cx="5.807" cy="6.209" r="0.956" fill="#05bbc3"/>
<circle cx="5.869" cy="6.290" r="0.948" fill="#09bcc0"/>
<circle cx="5.931" cy="6.371" r="0.940" fill="#0cbdbd"/>
<circle cx="5.993" cy="6.452" r="0.932" fill="#10bebb"/>
<circle cx="6.056" cy="6.533" r="0.925" fill="#14beb8"/>
<circle cx="6.118" cy="6.614" r="0.917" fill="#18bfb6"/>
<circle cx="6.180" cy="6.695" r="0.909" fill="#1cc0b3"/>
<circle cx="6.242" cy="6.776" r="0.902" fill="#20c1b1"/>
<circle cx="6.304" cy="6.856" r="0.894" fill="#23c1ae"/>
<circle cx="6.366" cy="6.937" r="0.886" fill="#27c2ac"/>
<circle cx="6.428" cy="7.018" r="0.879" fill="#29c3a9"/>
<circle cx="6.490" cy="7.099" r="0.871" fill="#2bc4a7"/>
<circle cx="6.552" cy="7.180" r="0.864" fill="#2ec4a4"/>
<circle cx="6.614" cy="7.261" r="0.856" fill="#30c5a1"/>
<circle cx="6.677" cy="7.342" r="0.849" fill="#32c69f"/>
<circle cx="6.739" cy="7.423" r="0.841" fill="#35c79b"/>
<circle cx="6.801" cy="7.504" r="0.834" fill="#37c898"/>
<circle cx="6.863" cy="7.585" r="0.827" fill="#3ac894"/>
<circle cx="6.925" cy="7.666" r="0.819" fill="#3dc991"/>
<circle cx="6.987" cy="7.747" r="0.812" fill="#3fca8e"/>
<circle cx="7.049" cy="7.828" r="0.804" fill="#44ca8a"/>
<circle cx="7.111" cy="7.909" r="0.797" fill="#49cb86"/>
<circle cx="7.173" cy="7.990" r="0.790" fill="#4ecb82"/>
<circle cx="7.236" cy="8.071" r="0.782" fill="#52cc7e"/>
<circle cx="7.298" cy="8.152" r="0.775" fill="#57cc7a"/>
<circle cx="7.360" cy="8.233" r="0.767" fill="#5ccc76"/>
<circle cx="7.422" cy="8.314" r="0.760" fill="#61cc71"/>
<circle cx="7.484" cy="8.395" r="0.753" fill="#67cc6d"/>
<circle cx="7.546" cy="8.476" r="0.745" fill="#6ccd68"/>
<circle cx="7.608" cy="8.557" r="0.738" fill="#71cd64"/>
<circle cx="7.670" cy="8.638" r="0.731" fill="#77cc60"/>
<circle cx="7.732" cy="8.719" r="0.723" fill="#7dcc5b"/>
<circle cx="7.794" cy="8.800" r="0.716" fill="#83cb57"/>
<circle cx="7.857" cy="8.881" r="0.708" fill="#88cb53"/>
<circle cx="7.919" cy="8.962" r="0.701" fill="#8ecb4e"/>
<circle cx="7.981" cy="9.043" r="0.694" fill="#94ca4a"/>
<circle cx="8.043" cy="9.124" r="0.686" fill="#99c946"/>
<circle cx="8.105" cy="9.205" r="0.679" fill="#9fc842"/>
<circle cx="8.167" cy="9.286" r="0.671" fill="#a4c83e"/>
<circle cx="8.229" cy="9.367" r="0.664" fill="#aac73a"/>
<circle cx="8.291" cy="9.448" r="0.656" fill="#afc637"/>
<circle cx="8.353" cy="9.529" r="0.649" fill="#b3c534"/>
<circle cx="8.415" cy="9.609" r="0.641" fill="#b8c432"/>
<circle cx="8.478" cy="9.690" r="0.634" fill="#bcc42f"/>
<circle cx="8.540" cy="9.771" r="0.626" fill="#c1c32c"/>
<circle cx="8.602" cy="9.852" r="0.618" fill="#c5c22b"/>
<circle cx="8.664" cy="9.933" r="0.611" fill="#c9c12a"/>
<circle cx="8.726" cy="10.014" r="0.603" fill="#cdc029"/>
<circle cx="8.788" cy="10.095" r="0.595" fill="#d1bf29"/>
<circle cx="8.850" cy="10.176" r="0.588" fill="#d5be28"/>
<circle cx="8.912" cy="10.257" r="0.580" fill="#d9be28"/>
<circle cx="8.974" cy="10.338" r="0.572" fill="#dcbd2a"/>
<circle cx="9.037" cy="10.419" r="0.564" fill="#e0bc2b"/>
<circle cx="9.099" cy="10.500" r="0.556" fill="#e3bc2d"/>
<circle cx="9.161" cy="10.581" r="0.548" fill="#e7bb2e"/>
<circle cx="9.223" cy="10.662" r="0.540" fill="#eabb30"/>
<circle cx="9.285" cy="10.743" r="0.532" fill="#edba33"/>
<circle cx="9.347" cy="10.824" r="0.524" fill="#f0ba36"/>
<circle cx="9.409" cy="10.905" r="0.515" fill="#f3ba39"/>
<circle cx="9.471" cy="10.986" r="0.507" fill="#f6ba3c"/>
<circle cx="9.533" cy="11.067" r="0.499" fill="#f8bb3c"/>
<circle cx="9.595" cy="11.148" r="0.490" fill="#f9bd3b"/>
<circle cx="9.658" cy="11.229" r="0.482" fill="#fbbe3a"/>
<circle cx="9.720" cy="11.310" r="0.473" fill="#fcc03a"/>
<circle cx="9.782" cy="11.391" r="0.464" fill="#fec239"/>
<circle cx="9.844" cy="11.472" r="0.455" fill="#fec438"/>
<circle cx="9.906" cy="11.553" r="0.446" fill="#fec636"/>
<circle cx="9.968" cy="11.634" r="0.437" fill="#fdc934"/>
<circle cx="10.030" cy="11.715" r="0.428" fill="#fdcb33"/>
<circle cx="10.092" cy="11.796" r="0.419" fill="#fdcd31"/>
<circle cx="10.154" cy="11.877" r="0.409" fill="#fcd030"/>
<circle cx="10.217" cy="11.958" r="0.400" fill="#fbd22f"/>
<circle cx="10.279" cy="12.039" r="0.390" fill="#fad52d"/>
<circle cx="10.341" cy="12.120" r="0.380" fill="#f9d72c"/>
<circle cx="10.403" cy="12.201" r="0.370" fill="#f8da2b"/>
<circle cx="10.465" cy="12.281" r="0.359" fill="#f7dd2a"/>
<circle cx="10.527" cy="12.362" r="0.348" fill="#f6df29"/>
<circle cx="10.589" cy="12.443" r="0.337" fill="#f6e227"/>
<circle cx="10.651" cy="12.524" r="0.326" fill="#f5e526"/>
<circle cx="10.713" cy="12.605" r="0.315" fill="#f5e825"/>
<circle cx="10.775" cy="12.686" r="0.303" fill="#f5eb23"/>
<circle cx="10.838" cy="12.767" r="0.290" fill="#f6ef1f"/>
<circle cx="10.900" cy="12.848" r="0.278" fill="#f7f21c"/>
<circle cx="10.962" cy="12.929" r="0.264" fill="#f8f619"/>
<circle cx="11.024" cy="13.010" r="0.250" fill="#f9f916"/>
<circle cx="11.086" cy="13.091" r="0.236" fill="#f9fb15"/>
<circle cx="11.148" cy="13.172" r="0.220" fill="#f9fb15"/>
<circle cx="11.210" cy="13.253" r="0.203" fill="#f9fb15"/>
<circle cx="11.272" cy="13.334" r="0.185" fill="#f9fb15"/>
<circle cx="11.334" cy="13.415" r="0.166" fill="#f9fb15"/>
<circle cx="11.397" cy="13.496" r="0.143" fill="#f9fb15"/>
<circle cx="11.459" cy="13.577" r="0.117" fill="#f9fb15"/>
<circle cx="11.521" cy="13.658" r="0.082" fill="#f9fb15"/>
<circle cx="11.583" cy="13.739" r="0.020" fill="#f9fb15"/>
</g>
<line x1="91.8" y1="718.6" x2="91.8" y2="535.57" stroke="#262626" stroke-width="1"/>
<polyline points="91.8,718.6 266.6,802.5 494.5,738.2" fill="none" stroke="#262626" stroke-width="1"/>
<line x1="91.8" y1="718.6" x2="86.03" y2="720.23" stroke="#262626" stroke-width="0.9"/>
<text x="78.4" y="745.4" font-size="23" text-anchor="end">5</text>
<line x1="179.2" y1="760.55" x2="173.43" y2="762.18" stroke="#262626" stroke-width="0.9"/>
<text x="165.8" y="787.35" font-size="23" text-anchor="end">0</text>
<line x1="266.6" y1="802.5" x2="260.83" y2="804.13" stroke="#262626" stroke-width="0.9"/>
<text x="253.2" y="829.3" font-size="23" text-anchor="end">-5</text>
<line x1="266.6" y1="802.5" x2="272.01" y2="805.1" stroke="#262626" stroke-width="0.9"/>
<text x="279.9" y="831.3" font-size="23" text-anchor="start">-5</text>
<line x1="380.55" y1="770.35" x2="385.96" y2="772.95" stroke="#262626" stroke-width="0.9"/>
<text x="393.85" y="799.15" font-size="23" text-anchor="start">0</text>
<line x1="494.5" y1="738.2" x2="499.91" y2="740.8" stroke="#262626" stroke-width="0.9"/>
<text x="507.8" y="767" font-size="23" text-anchor="start">5</text>
<line x1="91.8" y1="718.6" x2="86.39" y2="716" stroke="#262626" stroke-width="0.9"/>
<text x="78.5" y="722.4" font-size="23" text-anchor="end">0</text>
<line x1="91.8" y1="661.1" x2="86.39" y2="658.5" stroke="#262626" stroke-width="0.9"/>
<text x="78.5" y="664.9" font-size="23" text-anchor="end">0.1</text>
<line x1="91.8" y1="603.6" x2="86.39" y2="601" stroke="#262626" stroke-width="0.9"/>
<text x="78.5" y="607.4" font-size="23" text-anchor="end">0.2</text>
<line x1="91.8" y1="546.1" x2="86.39" y2="543.5" stroke="#262626" stroke-width="0.9"/>
<text x="78.5" y="549.9" font-size="23" text-anchor="end">0.3</text>
<text x="140" y="818" font-size="25" text-anchor="middle">Y</text>
<text x="406" y="833.7" font-size="25" text-anchor="middle">X</text>
<text transform="translate(20.7,634.8) rotate(-90)" font-size="27.5" letter-spacing="0.45" text-anchor="middle">Wigner function</text>
<text x="47.2" y="458.3" font-size="34" text-anchor="start" fill="#000">(c)</text>
</g>
<g id="panel-d">
<rect x="609.5" y="478.3" width="507.6" height="298.7" fill="none" stroke="#262626" stroke-width="1"/>
<line x1="609.5" y1="777" x2="609.5" y2="772" stroke="#262626" stroke-width="0.9"/>
<line x1="609.5" y1="478.3" x2="609.5" y2="483.3" stroke="#262626" stroke-width="0.9"/>
<text x="609.5" y="806.2" font-size="23" text-anchor="middle">-5</text>
<line x1="863.3" y1="777" x2="863.3" y2="772" stroke="#262626" stroke-width="0.9"/>
<line x1="863.3" y1="478.3" x2="863.3" y2="483.3" stroke="#262626" stroke-width="0.9"/>
<text x="863.3" y="806.2" font-size="23" text-anchor="middle">0</text>
<line x1="1117.1" y1="777" x2="1117.1" y2="772" stroke="#262626" stroke-width="0.9"/>
<line x1="1117.1" y1="478.3" x2="1117.1" y2="483.3" stroke="#262626" stroke-width="0.9"/>
<text x="1117.1" y="806.2" font-size="23" text-anchor="middle">5</text>
<line x1="609.5" y1="777" x2="614.5" y2="777" stroke="#262626" stroke-width="0.9"/>
<line x1="1117.1" y1="777" x2="1112.1" y2="777" stroke="#262626" stroke-width="0.9"/>
<text x="601" y="786" font-size="23" text-anchor="end">0</text>
<line x1="609.5" y1="729.87" x2="614.5" y2="729.87" stroke="#262626" stroke-width="0.9"/>
<line x1="1117.1" y1="729.87" x2="1112.1" y2="729.87" stroke="#262626" stroke-width="0.9"/>
<text x="601" y="738.87" font-size="23" text-anchor="end">0.05</text>
<line x1="609.5" y1="682.73" x2="614.5" y2="682.73" stroke="#262626" stroke-width="0.9"/>
<line x1="1117.1" y1="682.73" x2="1112.1" y2="682.73" stroke="#262626" stroke-width="0.9"/>
<text x="601" y="691.73" font-size="23" text-anchor="end">0.1</text>
<line x1="609.5" y1="635.6" x2="614.5" y2="635.6" stroke="#262626" stroke-width="0.9"/>
<line x1="1117.1" y1="635.6" x2="1112.1" y2="635.6" stroke="#262626" stroke-width="0.9"/>
<text x="601" y="644.6" font-size="23" text-anchor="end">0.15</text>
<line x1="609.5" y1="588.46" x2="614.5" y2="588.46" stroke="#262626" stroke-width="0.9"/>
<line x1="1117.1" y1="588.46" x2="1112.1" y2="588.46" stroke="#262626" stroke-width="0.9"/>
<text x="601" y="597.46" font-size="23" text-anchor="end">0.2</text>
<line x1="609.5" y1="541.33" x2="614.5" y2="541.33" stroke="#262626" stroke-width="0.9"/>
<line x1="1117.1" y1="541.33" x2="1112.1" y2="541.33" stroke="#262626" stroke-width="0.9"/>
<text x="601" y="550.33" font-size="23" text-anchor="end">0.25</text>
<line x1="609.5" y1="494.19" x2="614.5" y2="494.19" stroke="#262626" stroke-width="0.9"/>
<line x1="1117.1" y1="494.19" x2="1112.1" y2="494.19" stroke="#262626" stroke-width="0.9"/>
<text x="601" y="503.19" font-size="23" text-anchor="end">0.3</text>
<circle cx="609.5" cy="777" r="4.3" fill="none" stroke="#f00006" stroke-width="3.5"/>
<circle cx="614.58" cy="777" r="4.3" fill="none" stroke="#f00006" stroke-width="3.5"/>
<circle cx="619.65" cy="777" r="4.3" fill="none" stroke="#f00006" stroke-width="3.5"/>
<circle cx="624.73" cy="777" r="4.3" fill="none" stroke="#f00006" stroke-width="3.5"/>
<circle cx="629.8" cy="777" r="4.3" fill="none" stroke="#f00006" stroke-width="3.5"/>
<circle cx="634.88" cy="777" r="4.3" fill="none" stroke="#f00006" stroke-width="3.5"/>
<circle cx="639.96" cy="777" r="4.3" fill="none" stroke="#f00006" stroke-width="3.5"/>
<circle cx="645.03" cy="777" r="4.3" fill="none" stroke="#f00006" stroke-width="3.5"/>
<circle cx="650.11" cy="777" r="4.3" fill="none" stroke="#f00006" stroke-width="3.5"/>
<circle cx="655.18" cy="777" r="4.3" fill="none" stroke="#f00006" stroke-width="3.5"/>
<circle cx="660.26" cy="777" r="4.3" fill="none" stroke="#f00006" stroke-width="3.5"/>
<circle cx="665.34" cy="777" r="4.3" fill="none" stroke="#f00006" stroke-width="3.5"/>
<circle cx="670.41" cy="777" r="4.3" fill="none" stroke="#f00006" stroke-width="3.5"/>
<circle cx="675.49" cy="777" r="4.3" fill="none" stroke="#f00006" stroke-width="3.5"/>
<circle cx="680.56" cy="777" r="4.3" fill="none" stroke="#f00006" stroke-width="3.5"/>
<circle cx="685.64" cy="777" r="4.3" fill="none" stroke="#f00006" stroke-width="3.5"/>
<circle cx="690.72" cy="777" r="4.3" fill="none" stroke="#f00006" stroke-width="3.5"/>
<circle cx="695.79" cy="777" r="4.3" fill="none" stroke="#f00006" stroke-width="3.5"/>
<circle cx="700.87" cy="777" r="4.3" fill="none" stroke="#f00006" stroke-width="3.5"/>
<circle cx="705.94" cy="777" r="4.3" fill="none" stroke="#f00006" stroke-width="3.5"/>
<circle cx="711.02" cy="777" r="4.3" fill="none" stroke="#f00006" stroke-width="3.5"/>
<circle cx="716.1" cy="777" r="4.3" fill="none" stroke="#f00006" stroke-width="3.5"/>
<circle cx="721.17" cy="777" r="4.3" fill="none" stroke="#f00006" stroke-width="3.5"/>
<circle cx="726.25" cy="777" r="4.3" fill="none" stroke="#f00006" stroke-width="3.5"/>
<circle cx="731.32" cy="777" r="4.3" fill="none" stroke="#f00006" stroke-width="3.5"/>
<circle cx="736.4" cy="776.99" r="4.3" fill="none" stroke="#f00006" stroke-width="3.5"/>
<circle cx="741.48" cy="776.99" r="4.3" fill="none" stroke="#f00006" stroke-width="3.5"/>
<circle cx="746.55" cy="776.98" r="4.3" fill="none" stroke="#f00006" stroke-width="3.5"/>
<circle cx="751.63" cy="776.97" r="4.3" fill="none" stroke="#f00006" stroke-width="3.5"/>
<circle cx="756.7" cy="776.95" r="4.3" fill="none" stroke="#f00006" stroke-width="3.5"/>
<circle cx="761.78" cy="776.91" r="4.3" fill="none" stroke="#f00006" stroke-width="3.5"/>
<circle cx="766.86" cy="776.84" r="4.3" fill="none" stroke="#f00006" stroke-width="3.5"/>
<circle cx="771.93" cy="776.74" r="4.3" fill="none" stroke="#f00006" stroke-width="3.5"/>
<circle cx="777.01" cy="776.58" r="4.3" fill="none" stroke="#f00006" stroke-width="3.5"/>
<circle cx="782.08" cy="776.33" r="4.3" fill="none" stroke="#f00006" stroke-width="3.5"/>
<circle cx="787.16" cy="775.95" r="4.3" fill="none" stroke="#f00006" stroke-width="3.5"/>
<circle cx="792.24" cy="775.38" r="4.3" fill="none" stroke="#f00006" stroke-width="3.5"/>
<circle cx="797.31" cy="774.54" r="4.3" fill="none" stroke="#f00006" stroke-width="3.5"/>
<circle cx="802.39" cy="773.32" r="4.3" fill="none" stroke="#f00006" stroke-width="3.5"/>
<circle cx="807.46" cy="771.61" r="4.3" fill="none" stroke="#f00006" stroke-width="3.5"/>
<circle cx="812.54" cy="769.23" r="4.3" fill="none" stroke="#f00006" stroke-width="3.5"/>
<circle cx="817.62" cy="766" r="4.3" fill="none" stroke="#f00006" stroke-width="3.5"/>
<circle cx="822.69" cy="761.7" r="4.3" fill="none" stroke="#f00006" stroke-width="3.5"/>
<circle cx="827.77" cy="756.07" r="4.3" fill="none" stroke="#f00006" stroke-width="3.5"/>
<circle cx="832.84" cy="748.88" r="4.3" fill="none" stroke="#f00006" stroke-width="3.5"/>
<circle cx="837.92" cy="739.85" r="4.3" fill="none" stroke="#f00006" stroke-width="3.5"/>
<circle cx="843" cy="728.78" r="4.3" fill="none" stroke="#f00006" stroke-width="3.5"/>
<circle cx="848.07" cy="715.49" r="4.3" fill="none" stroke="#f00006" stroke-width="3.5"/>
<circle cx="853.15" cy="699.88" r="4.3" fill="none" stroke="#f00006" stroke-width="3.5"/>
<circle cx="858.22" cy="681.99" r="4.3" fill="none" stroke="#f00006" stroke-width="3.5"/>
<circle cx="863.3" cy="661.96" r="4.3" fill="none" stroke="#f00006" stroke-width="3.5"/>
<circle cx="868.38" cy="640.1" r="4.3" fill="none" stroke="#f00006" stroke-width="3.5"/>
<circle cx="873.45" cy="616.91" r="4.3" fill="none" stroke="#f00006" stroke-width="3.5"/>
<circle cx="878.53" cy="593.01" r="4.3" fill="none" stroke="#f00006" stroke-width="3.5"/>
<circle cx="883.6" cy="569.19" r="4.3" fill="none" stroke="#f00006" stroke-width="3.5"/>
<circle cx="888.68" cy="546.33" r="4.3" fill="none" stroke="#f00006" stroke-width="3.5"/>
<circle cx="893.76" cy="525.38" r="4.3" fill="none" stroke="#f00006" stroke-width="3.5"/>
<circle cx="898.83" cy="507.25" r="4.3" fill="none" stroke="#f00006" stroke-width="3.5"/>
<circle cx="903.91" cy="492.8" r="4.3" fill="none" stroke="#f00006" stroke-width="3.5"/>
<circle cx="908.98" cy="482.74" r="4.3" fill="none" stroke="#f00006" stroke-width="3.5"/>
<circle cx="914.06" cy="477.58" r="4.3" fill="none" stroke="#f00006" stroke-width="3.5"/>
<circle cx="919.14" cy="477.58" r="4.3" fill="none" stroke="#f00006" stroke-width="3.5"/>
<circle cx="924.21" cy="482.74" r="4.3" fill="none" stroke="#f00006" stroke-width="3.5"/>
<circle cx="929.29" cy="492.8" r="4.3" fill="none" stroke="#f00006" stroke-width="3.5"/>
<circle cx="934.36" cy="507.25" r="4.3" fill="none" stroke="#f00006" stroke-width="3.5"/>
<circle cx="939.44" cy="525.38" r="4.3" fill="none" stroke="#f00006" stroke-width="3.5"/>
<circle cx="944.52" cy="546.33" r="4.3" fill="none" stroke="#f00006" stroke-width="3.5"/>
<circle cx="949.59" cy="569.19" r="4.3" fill="none" stroke="#f00006" stroke-width="3.5"/>
<circle cx="954.67" cy="593.01" r="4.3" fill="none" stroke="#f00006" stroke-width="3.5"/>
<circle cx="959.74" cy="616.91" r="4.3" fill="none" stroke="#f00006" stroke-width="3.5"/>
<circle cx="964.82" cy="640.1" r="4.3" fill="none" stroke="#f00006" stroke-width="3.5"/>
<circle cx="969.9" cy="661.96" r="4.3" fill="none" stroke="#f00006" stroke-width="3.5"/>
<circle cx="974.97" cy="681.99" r="4.3" fill="none" stroke="#f00006" stroke-width="3.5"/>
<circle cx="980.05" cy="699.88" r="4.3" fill="none" stroke="#f00006" stroke-width="3.5"/>
<circle cx="985.12" cy="715.49" r="4.3" fill="none" stroke="#f00006" stroke-width="3.5"/>
<circle cx="990.2" cy="728.78" r="4.3" fill="none" stroke="#f00006" stroke-width="3.5"/>
<circle cx="995.28" cy="739.85" r="4.3" fill="none" stroke="#f00006" stroke-width="3.5"/>
<circle cx="1000.35" cy="748.88" r="4.3" fill="none" stroke="#f00006" stroke-width="3.5"/>
<circle cx="1005.43" cy="756.07" r="4.3" fill="none" stroke="#f00006" stroke-width="3.5"/>
<circle cx="1010.5" cy="761.7" r="4.3" fill="none" stroke="#f00006" stroke-width="3.5"/>
<circle cx="1015.58" cy="766" r="4.3" fill="none" stroke="#f00006" stroke-width="3.5"/>
<circle cx="1020.66" cy="769.23" r="4.3" fill="none" stroke="#f00006" stroke-width="3.5"/>
<circle cx="1025.73" cy="771.61" r="4.3" fill="none" stroke="#f00006" stroke-width="3.5"/>
<circle cx="1030.81" cy="773.32" r="4.3" fill="none" stroke="#f00006" stroke-width="3.5"/>
<circle cx="1035.88" cy="774.54" r="4.3" fill="none" stroke="#f00006" stroke-width="3.5"/>
<circle cx="1040.96" cy="775.38" r="4.3" fill="none" stroke="#f00006" stroke-width="3.5"/>
<circle cx="1046.04" cy="775.95" r="4.3" fill="none" stroke="#f00006" stroke-width="3.5"/>
<circle cx="1051.11" cy="776.33" r="4.3" fill="none" stroke="#f00006" stroke-width="3.5"/>
<circle cx="1056.19" cy="776.58" r="4.3" fill="none" stroke="#f00006" stroke-width="3.5"/>
<circle cx="1061.26" cy="776.74" r="4.3" fill="none" stroke="#f00006" stroke-width="3.5"/>
<circle cx="1066.34" cy="776.84" r="4.3" fill="none" stroke="#f00006" stroke-width="3.5"/>
<circle cx="1071.42" cy="776.91" r="4.3" fill="none" stroke="#f00006" stroke-width="3.5"/>
<circle cx="1076.49" cy="776.95" r="4.3" fill="none" stroke="#f00006" stroke-width="3.5"/>
<circle cx="1081.57" cy="776.97" r="4.3" fill="none" stroke="#f00006" stroke-width="3.5"/>
<circle cx="1086.64" cy="776.98" r="4.3" fill="none" stroke="#f00006" stroke-width="3.5"/>
<circle cx="1091.72" cy="776.99" r="4.3" fill="none" stroke="#f00006" stroke-width="3.5"/>
<circle cx="1096.8" cy="776.99" r="4.3" fill="none" stroke="#f00006" stroke-width="3.5"/>
<circle cx="1101.87" cy="777" r="4.3" fill="none" stroke="#f00006" stroke-width="3.5"/>
<circle cx="1106.95" cy="777" r="4.3" fill="none" stroke="#f00006" stroke-width="3.5"/>
<circle cx="1112.02" cy="777" r="4.3" fill="none" stroke="#f00006" stroke-width="3.5"/>
<circle cx="1117.1" cy="777" r="4.3" fill="none" stroke="#f00006" stroke-width="3.5"/>
<polyline points="609.5,777 610.77,777 612.04,777 613.31,777 614.58,777 615.85,777 617.11,777 618.38,777 619.65,777 620.92,777 622.19,777 623.46,777 624.73,777 626,777 627.27,777 628.53,777 629.8,777 631.07,777 632.34,777 633.61,777 634.88,777 636.15,777 637.42,777 638.69,777 639.96,777 641.23,777 642.49,777 643.76,777 645.03,777 646.3,777 647.57,777 648.84,777 650.11,777 651.38,777 652.65,777 653.91,777 655.18,777 656.45,777 657.72,777 658.99,777 660.26,777 661.53,777 662.8,777 664.07,777 665.34,777 666.61,777 667.87,777 669.14,777 670.41,777 671.68,777 672.95,777 674.22,777 675.49,777 676.76,777 678.03,777 679.29,777 680.56,777 681.83,777 683.1,777 684.37,777 685.64,777 686.91,777 688.18,777 689.45,777 690.72,777 691.99,777 693.25,777 694.52,777 695.79,777 697.06,777 698.33,777 699.6,777 700.87,777 702.14,777 703.41,777 704.67,777 705.94,777 707.21,777 708.48,777 709.75,777 711.02,777 712.29,777 713.56,777 714.83,777 716.1,777 717.37,777 718.63,777 719.9,777 721.17,777 722.44,777 723.71,777 724.98,777 726.25,777 727.52,777 728.79,777 730.05,777 731.32,777 732.59,777 733.86,777 735.13,777 736.4,777 737.67,777 738.94,777 740.21,777 741.48,777 742.75,777 744.01,777 745.28,777 746.55,777 747.82,777 749.09,776.99 750.36,776.99 751.63,776.99 752.9,776.99 754.17,776.99 755.43,776.99 756.7,776.99 757.97,776.98 759.24,776.98 760.51,776.98 761.78,776.97 763.05,776.97 764.32,776.96 765.59,776.96 766.86,776.95 768.12,776.94 769.39,776.93 770.66,776.92 771.93,776.91 773.2,776.9 774.47,776.88 775.74,776.86 777.01,776.84 778.28,776.82 779.55,776.8 780.81,776.77 782.08,776.73 783.35,776.69 784.62,776.65 785.89,776.6 787.16,776.55 788.43,776.49 789.7,776.42 790.97,776.34 792.24,776.26 793.5,776.16 794.77,776.05 796.04,775.93 797.31,775.8 798.58,775.65 799.85,775.49 801.12,775.3 802.39,775.1 803.66,774.88 804.93,774.63 806.19,774.35 807.46,774.05 808.73,773.72 810,773.35 811.27,772.95 812.54,772.51 813.81,772.03 815.08,771.5 816.35,770.93 817.62,770.3 818.88,769.62 820.15,768.88 821.42,768.08 822.69,767.21 823.96,766.27 825.23,765.25 826.5,764.15 827.77,762.97 829.04,761.69 830.31,760.32 831.57,758.86 832.84,757.28 834.11,755.6 835.38,753.8 836.65,751.89 837.92,749.85 839.19,747.68 840.46,745.37 841.73,742.93 843,740.35 844.26,737.61 845.53,734.73 846.8,731.7 848.07,728.5 849.34,725.15 850.61,721.63 851.88,717.95 853.15,714.1 854.42,710.09 855.69,705.9 856.95,701.56 858.22,697.04 859.49,692.36 860.76,687.52 862.03,682.52 863.3,677.36 864.57,672.06 865.84,666.61 867.11,661.02 868.38,655.3 869.64,649.46 870.91,643.51 872.18,637.45 873.45,631.3 874.72,625.07 875.99,618.77 877.26,612.42 878.53,606.02 879.8,599.6 881.07,593.17 882.33,586.74 883.6,580.33 884.87,573.96 886.14,567.65 887.41,561.41 888.68,555.26 889.95,549.22 891.22,543.3 892.49,537.54 893.76,531.94 895.02,526.52 896.29,521.3 897.56,516.29 898.83,511.53 900.1,507.01 901.37,502.76 902.64,498.79 903.91,495.11 905.18,491.74 906.45,488.7 907.71,485.98 908.98,483.61 910.25,481.58 911.52,479.92 912.79,478.61 914.06,477.68 915.33,477.12 916.6,476.93 917.87,477.12 919.14,477.68 920.4,478.61 921.67,479.92 922.94,481.58 924.21,483.61 925.48,485.98 926.75,488.7 928.02,491.74 929.29,495.11 930.56,498.79 931.83,502.76 933.09,507.01 934.36,511.53 935.63,516.29 936.9,521.3 938.17,526.52 939.44,531.94 940.71,537.54 941.98,543.3 943.25,549.22 944.52,555.26 945.78,561.41 947.05,567.65 948.32,573.96 949.59,580.33 950.86,586.74 952.13,593.17 953.4,599.6 954.67,606.02 955.94,612.42 957.21,618.77 958.47,625.07 959.74,631.3 961.01,637.45 962.28,643.51 963.55,649.46 964.82,655.3 966.09,661.02 967.36,666.61 968.63,672.06 969.9,677.36 971.16,682.52 972.43,687.52 973.7,692.36 974.97,697.04 976.24,701.56 977.51,705.9 978.78,710.09 980.05,714.1 981.32,717.95 982.59,721.63 983.85,725.15 985.12,728.5 986.39,731.7 987.66,734.73 988.93,737.61 990.2,740.35 991.47,742.93 992.74,745.37 994.01,747.68 995.28,749.85 996.54,751.89 997.81,753.8 999.08,755.6 1000.35,757.28 1001.62,758.86 1002.89,760.32 1004.16,761.69 1005.43,762.97 1006.7,764.15 1007.97,765.25 1009.23,766.27 1010.5,767.21 1011.77,768.08 1013.04,768.88 1014.31,769.62 1015.58,770.3 1016.85,770.93 1018.12,771.5 1019.39,772.03 1020.66,772.51 1021.92,772.95 1023.19,773.35 1024.46,773.72 1025.73,774.05 1027,774.35 1028.27,774.63 1029.54,774.88 1030.81,775.1 1032.08,775.3 1033.35,775.49 1034.61,775.65 1035.88,775.8 1037.15,775.93 1038.42,776.05 1039.69,776.16 1040.96,776.26 1042.23,776.34 1043.5,776.42 1044.77,776.49 1046.04,776.55 1047.3,776.6 1048.57,776.65 1049.84,776.69 1051.11,776.73 1052.38,776.77 1053.65,776.8 1054.92,776.82 1056.19,776.84 1057.46,776.86 1058.73,776.88 1059.99,776.9 1061.26,776.91 1062.53,776.92 1063.8,776.93 1065.07,776.94 1066.34,776.95 1067.61,776.96 1068.88,776.96 1070.15,776.97 1071.42,776.97 1072.68,776.98 1073.95,776.98 1075.22,776.98 1076.49,776.99 1077.76,776.99 1079.03,776.99 1080.3,776.99 1081.57,776.99 1082.84,776.99 1084.11,776.99 1085.38,777 1086.64,777 1087.91,777 1089.18,777 1090.45,777 1091.72,777 1092.99,777 1094.26,777 1095.53,777 1096.8,777 1098.07,777 1099.33,777 1100.6,777 1101.87,777 1103.14,777 1104.41,777 1105.68,777 1106.95,777 1108.22,777 1109.49,777 1110.75,777 1112.02,777 1113.29,777 1114.56,777 1115.83,777 1117.1,777" fill="none" stroke="#0a0ad4" stroke-width="2.6" stroke-dasharray="2.6 3.3"/>
<text x="863" y="838" font-size="28.5" text-anchor="middle">X</text>
<text transform="translate(553.3,628.4) rotate(-90)" font-size="30" text-anchor="middle">W(x,0)</text>
<text x="542.9" y="455.8" font-size="34" text-anchor="start" fill="#000">(d)</text>
</g>
</svg>
</body></html>
